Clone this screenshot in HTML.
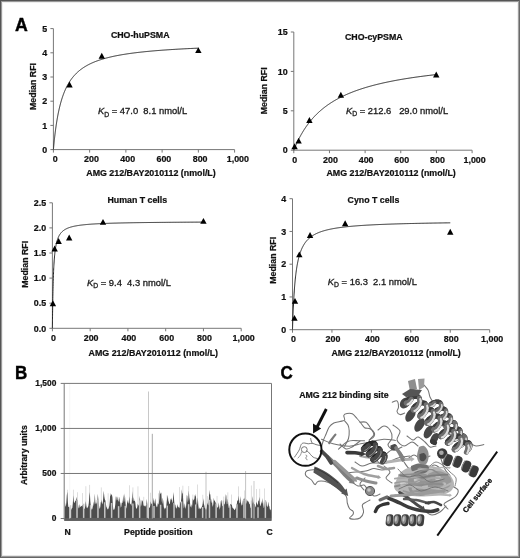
<!DOCTYPE html><html><head><meta charset="utf-8"><style>html,body{margin:0;padding:0;background:#fff}svg{display:block} text{stroke:#111;stroke-width:0.22px}</style></head><body>
<svg width="520" height="558" viewBox="0 0 520 558" style="font-family:'Liberation Sans',Arial,sans-serif">
<rect x="0" y="0" width="520" height="558" fill="#fff"/>
<text transform="translate(15.0 31.1) scale(0.97 1)" font-size="18.3" font-weight="bold" fill="#000" style="stroke:#000;stroke-width:0.4px">A</text>
<text transform="translate(15.1 379.0) scale(0.93 1)" font-size="18.3" font-weight="bold" fill="#000" style="stroke:#000;stroke-width:0.4px">B</text>
<text transform="translate(280.5 379.0) scale(0.93 1)" font-size="18.3" font-weight="bold" fill="#000" style="stroke:#000;stroke-width:0.4px">C</text>
<g stroke="#777" stroke-width="1" fill="none">
<path d="M53.4 28.6 V149.6 H234.6"/>
<path d="M50.4 149.6 H53.4"/>
<path d="M50.4 125.4 H53.4"/>
<path d="M50.4 101.2 H53.4"/>
<path d="M50.4 77 H53.4"/>
<path d="M50.4 52.8 H53.4"/>
<path d="M50.4 28.6 H53.4"/>
<path d="M53.4 149.6 V152.6"/>
<path d="M89.64 149.6 V152.6"/>
<path d="M125.88 149.6 V152.6"/>
<path d="M162.12 149.6 V152.6"/>
<path d="M198.36 149.6 V152.6"/>
<path d="M234.6 149.6 V152.6"/>
</g>
<g font-size="8.9" font-weight="bold" fill="#111" text-anchor="end">
<text x="47.2" y="152.8">0</text>
<text x="47.2" y="128.6">1</text>
<text x="47.2" y="104.4">2</text>
<text x="47.2" y="80.2">3</text>
<text x="47.2" y="56">4</text>
<text x="47.2" y="31.8">5</text>
</g>
<g font-size="8.9" font-weight="bold" fill="#111" text-anchor="middle">
<text x="55.2" y="162">0</text>
<text x="91.44" y="162">200</text>
<text x="127.68" y="162">400</text>
<text x="163.92" y="162">600</text>
<text x="200.16" y="162">800</text>
<text x="237.9" y="162">1,000</text>
</g>
<text x="151" y="176.1" font-size="8.85" font-weight="bold" fill="#111" text-anchor="middle">AMG 212/BAY2010112 (nmol/L)</text>
<text transform="translate(35.5 86.5) rotate(-90)" font-size="8.8" font-weight="bold" fill="#111" text-anchor="middle">Median RFI</text>
<text x="140.2" y="38.1" font-size="8.8" font-weight="bold" fill="#111" text-anchor="middle">CHO-huPSMA</text>
<text x="98" y="114.3" font-size="9.4" fill="#111" style="stroke:#222;stroke-width:0.3px" xml:space="preserve"><tspan font-style="italic">K</tspan><tspan font-size="6.8" dy="2.2">D</tspan><tspan dy="-2.2"> = 47.0  8.1 nmol/L</tspan></text>
<polyline points="53.4,149.6 53.4,149.6 53.4,149.59 53.4,149.57 53.41,149.54 53.41,149.49 53.41,149.44 53.42,149.38 53.43,149.3 53.43,149.21 53.44,149.11 53.45,149 53.46,148.88 53.48,148.74 53.49,148.59 53.51,148.42 53.52,148.24 53.54,148.05 53.56,147.85 53.58,147.63 53.6,147.4 53.62,147.16 53.65,146.9 53.67,146.63 53.7,146.35 53.73,146.06 53.75,145.75 53.79,145.43 53.82,145.1 53.85,144.75 53.89,144.39 53.92,144.02 53.96,143.64 54,143.25 54.04,142.84 54.08,142.43 54.13,142 54.17,141.57 54.22,141.12 54.27,140.66 54.31,140.19 54.37,139.72 54.42,139.23 54.47,138.73 54.53,138.23 54.59,137.72 54.64,137.2 54.7,136.67 54.77,136.13 54.83,135.59 54.89,135.03 54.96,134.48 55.03,133.91 55.1,133.34 55.17,132.77 55.24,132.18 55.32,131.6 55.39,131 55.47,130.41 55.55,129.81 55.63,129.2 55.71,128.59 55.8,127.98 55.88,127.37 55.97,126.75 56.06,126.13 56.15,125.5 56.24,124.88 56.34,124.25 56.44,123.62 56.53,122.99 56.63,122.36 56.73,121.73 56.84,121.1 56.94,120.46 57.05,119.83 57.15,119.2 57.26,118.57 57.37,117.93 57.49,117.3 57.6,116.67 57.72,116.04 57.84,115.41 57.96,114.79 58.08,114.16 58.2,113.54 58.33,112.92 58.45,112.3 58.58,111.68 58.71,111.07 58.85,110.46 58.98,109.85 59.12,109.24 59.25,108.64 59.39,108.04 59.53,107.44 59.68,106.85 59.82,106.25 59.97,105.67 60.12,105.08 60.27,104.5 60.42,103.93 60.57,103.35 60.73,102.78 60.88,102.22 61.04,101.66 61.21,101.1 61.37,100.55 61.53,100 61.7,99.45 61.87,98.91 62.04,98.38 62.21,97.84 62.38,97.31 62.56,96.79 62.74,96.27 62.92,95.76 63.1,95.25 63.28,94.74 63.47,94.24 63.65,93.74 63.84,93.25 64.03,92.76 64.23,92.27 64.42,91.79 64.62,91.32 64.82,90.85 65.02,90.38 65.22,89.92 65.42,89.46 65.63,89.01 65.84,88.56 66.05,88.12 66.26,87.68 66.47,87.24 66.69,86.81 66.91,86.38 67.12,85.96 67.35,85.54 67.57,85.13 67.79,84.72 68.02,84.31 68.25,83.91 68.48,83.51 68.71,83.12 68.95,82.73 69.19,82.34 69.43,81.96 69.67,81.58 69.91,81.21 70.15,80.84 70.4,80.47 70.65,80.11 70.9,79.76 71.15,79.4 71.41,79.05 71.66,78.7 71.92,78.36 72.18,78.02 72.45,77.69 72.71,77.36 72.98,77.03 73.24,76.7 73.52,76.38 73.79,76.06 74.06,75.75 74.34,75.44 74.62,75.13 74.9,74.83 75.18,74.53 75.46,74.23 75.75,73.94 76.04,73.64 76.33,73.36 76.62,73.07 76.92,72.79 77.21,72.51 77.51,72.24 77.81,71.96 78.12,71.7 78.42,71.43 78.73,71.17 79.04,70.9 79.35,70.65 79.66,70.39 79.98,70.14 80.29,69.89 80.61,69.64 80.93,69.4 81.26,69.16 81.58,68.92 81.91,68.68 82.24,68.45 82.57,68.22 82.9,67.99 83.24,67.76 83.58,67.54 83.92,67.32 84.26,67.1 84.6,66.88 84.95,66.67 85.3,66.46 85.65,66.25 86,66.04 86.35,65.84 86.71,65.63 87.07,65.43 87.43,65.24 87.79,65.04 88.16,64.84 88.52,64.65 88.89,64.46 89.26,64.27 89.64,64.09 90.01,63.9 90.39,63.72 90.77,63.54 91.15,63.36 91.53,63.19 91.92,63.01 92.31,62.84 92.7,62.67 93.09,62.5 93.49,62.33 93.88,62.17 94.28,62 94.68,61.84 95.08,61.68 95.49,61.52 95.9,61.37 96.31,61.21 96.72,61.06 97.13,60.9 97.55,60.75 97.96,60.6 98.38,60.46 98.81,60.31 99.23,60.17 99.66,60.02 100.09,59.88 100.52,59.74 100.95,59.6 101.39,59.47 101.82,59.33 102.26,59.19 102.7,59.06 103.15,58.93 103.59,58.8 104.04,58.67 104.49,58.54 104.94,58.42 105.4,58.29 105.86,58.17 106.32,58.04 106.78,57.92 107.24,57.8 107.71,57.68 108.17,57.56 108.64,57.45 109.12,57.33 109.59,57.22 110.07,57.1 110.55,56.99 111.03,56.88 111.51,56.77 111.99,56.66 112.48,56.55 112.97,56.44 113.46,56.34 113.96,56.23 114.45,56.13 114.95,56.03 115.45,55.92 115.96,55.82 116.46,55.72 116.97,55.62 117.48,55.53 117.99,55.43 118.51,55.33 119.02,55.24 119.54,55.14 120.06,55.05 120.58,54.96 121.11,54.86 121.64,54.77 122.17,54.68 122.7,54.59 123.23,54.5 123.77,54.42 124.31,54.33 124.85,54.24 125.39,54.16 125.94,54.07 126.48,53.99 127.03,53.91 127.59,53.82 128.14,53.74 128.7,53.66 129.26,53.58 129.82,53.5 130.38,53.42 130.95,53.35 131.51,53.27 132.08,53.19 132.66,53.12 133.23,53.04 133.81,52.97 134.39,52.89 134.97,52.82 135.55,52.75 136.14,52.68 136.73,52.6 137.32,52.53 137.91,52.46 138.51,52.39 139.1,52.33 139.7,52.26 140.31,52.19 140.91,52.12 141.52,52.06 142.13,51.99 142.74,51.93 143.35,51.86 143.97,51.8 144.58,51.73 145.2,51.67 145.83,51.61 146.45,51.55 147.08,51.48 147.71,51.42 148.34,51.36 148.97,51.3 149.61,51.24 150.25,51.18 150.89,51.13 151.53,51.07 152.18,51.01 152.83,50.95 153.48,50.9 154.13,50.84 154.78,50.79 155.44,50.73 156.1,50.68 156.76,50.62 157.43,50.57 158.09,50.52 158.76,50.46 159.43,50.41 160.11,50.36 160.78,50.31 161.46,50.26 162.14,50.2 162.82,50.15 163.51,50.1 164.2,50.05 164.89,50.01 165.58,49.96 166.27,49.91 166.97,49.86 167.67,49.81 168.37,49.77 169.07,49.72 169.78,49.67 170.49,49.63 171.2,49.58 171.91,49.53 172.63,49.49 173.34,49.45 174.07,49.4 174.79,49.36 175.51,49.31 176.24,49.27 176.97,49.23 177.7,49.18 178.44,49.14 179.17,49.1 179.91,49.06 180.65,49.02 181.4,48.98 182.14,48.94 182.89,48.89 183.64,48.85 184.4,48.81 185.15,48.78 185.91,48.74 186.67,48.7 187.43,48.66 188.2,48.62 188.96,48.58 189.73,48.54 190.51,48.51 191.28,48.47 192.06,48.43 192.84,48.4 193.62,48.36 194.4,48.32 195.19,48.29 195.98,48.25 196.77,48.22 197.56,48.18 198.36,48.15" fill="none" stroke="#222" stroke-width="1"/>
<polygon points="66.33,87.45 72.73,87.45 69.53,81.55" fill="#000"/>
<polygon points="98.58,58.65 104.98,58.65 101.78,52.75" fill="#000"/>
<polygon points="195.16,53.09 201.56,53.09 198.36,47.19" fill="#000"/>
<g stroke="#777" stroke-width="1" fill="none">
<path d="M293.8 32 V150.2 H472.1"/>
<path d="M290.8 150.2 H293.8"/>
<path d="M290.8 110.8 H293.8"/>
<path d="M290.8 71.4 H293.8"/>
<path d="M290.8 32 H293.8"/>
<path d="M293.8 150.2 V153.2"/>
<path d="M329.46 150.2 V153.2"/>
<path d="M365.12 150.2 V153.2"/>
<path d="M400.78 150.2 V153.2"/>
<path d="M436.44 150.2 V153.2"/>
<path d="M472.1 150.2 V153.2"/>
</g>
<g font-size="8.9" font-weight="bold" fill="#111" text-anchor="end">
<text x="287.6" y="153.4">0</text>
<text x="287.6" y="114">5</text>
<text x="287.6" y="74.6">10</text>
<text x="287.6" y="35.2">15</text>
</g>
<g font-size="8.9" font-weight="bold" fill="#111" text-anchor="middle">
<text x="294.8" y="162.6">0</text>
<text x="330.46" y="162.6">200</text>
<text x="366.12" y="162.6">400</text>
<text x="401.78" y="162.6">600</text>
<text x="437.44" y="162.6">800</text>
<text x="474.6" y="162.6">1,000</text>
</g>
<text x="391.1" y="176.1" font-size="8.85" font-weight="bold" fill="#111" text-anchor="middle">AMG 212/BAY2010112 (nmol/L)</text>
<text transform="translate(266.7 90.8) rotate(-90)" font-size="8.8" font-weight="bold" fill="#111" text-anchor="middle">Median RFI</text>
<text x="373.8" y="40.3" font-size="8.8" font-weight="bold" fill="#111" text-anchor="middle">CHO-cyPSMA</text>
<text x="346" y="114" font-size="9.4" fill="#111" style="stroke:#222;stroke-width:0.3px" xml:space="preserve"><tspan font-style="italic">K</tspan><tspan font-size="6.8" dy="2.2">D</tspan><tspan dy="-2.2"> = 212.6   29.0 nmol/L</tspan></text>
<polyline points="293.8,150.2 293.8,150.2 293.8,150.2 293.8,150.19 293.81,150.19 293.81,150.18 293.81,150.17 293.82,150.15 293.83,150.13 293.83,150.11 293.84,150.09 293.85,150.07 293.86,150.04 293.88,150.01 293.89,149.97 293.9,149.94 293.92,149.9 293.94,149.86 293.96,149.81 293.97,149.76 294,149.71 294.02,149.65 294.04,149.59 294.07,149.53 294.09,149.47 294.12,149.4 294.15,149.33 294.18,149.25 294.21,149.17 294.24,149.09 294.28,149.01 294.31,148.92 294.35,148.83 294.39,148.73 294.43,148.64 294.47,148.53 294.51,148.43 294.56,148.32 294.6,148.21 294.65,148.1 294.7,147.98 294.75,147.86 294.8,147.73 294.86,147.61 294.91,147.48 294.97,147.34 295.02,147.21 295.08,147.06 295.14,146.92 295.21,146.77 295.27,146.62 295.34,146.47 295.4,146.32 295.47,146.16 295.54,145.99 295.61,145.83 295.69,145.66 295.76,145.49 295.84,145.31 295.92,145.14 296,144.96 296.08,144.77 296.16,144.59 296.24,144.4 296.33,144.21 296.42,144.01 296.51,143.82 296.6,143.62 296.69,143.41 296.79,143.21 296.88,143 296.98,142.79 297.08,142.58 297.18,142.36 297.28,142.14 297.39,141.92 297.49,141.7 297.6,141.47 297.71,141.25 297.82,141.02 297.94,140.78 298.05,140.55 298.17,140.31 298.28,140.07 298.4,139.83 298.53,139.59 298.65,139.34 298.77,139.1 298.9,138.85 299.03,138.6 299.16,138.34 299.29,138.09 299.42,137.83 299.56,137.57 299.7,137.31 299.84,137.05 299.98,136.79 300.12,136.52 300.26,136.25 300.41,135.99 300.56,135.72 300.71,135.45 300.86,135.17 301.01,134.9 301.17,134.62 301.32,134.35 301.48,134.07 301.64,133.79 301.8,133.51 301.97,133.23 302.13,132.95 302.3,132.66 302.47,132.38 302.64,132.09 302.81,131.81 302.99,131.52 303.17,131.23 303.34,130.94 303.52,130.65 303.71,130.36 303.89,130.07 304.08,129.78 304.26,129.49 304.45,129.2 304.65,128.9 304.84,128.61 305.03,128.31 305.23,128.02 305.43,127.72 305.63,127.43 305.83,127.13 306.04,126.83 306.24,126.54 306.45,126.24 306.66,125.94 306.88,125.65 307.09,125.35 307.31,125.05 307.52,124.75 307.74,124.45 307.96,124.16 308.19,123.86 308.41,123.56 308.64,123.26 308.87,122.97 309.1,122.67 309.33,122.37 309.57,122.07 309.81,121.78 310.04,121.48 310.29,121.18 310.53,120.89 310.77,120.59 311.02,120.29 311.27,120 311.52,119.7 311.77,119.41 312.03,119.11 312.28,118.82 312.54,118.53 312.8,118.23 313.06,117.94 313.33,117.65 313.59,117.36 313.86,117.07 314.13,116.78 314.4,116.49 314.68,116.2 314.95,115.91 315.23,115.62 315.51,115.33 315.79,115.05 316.08,114.76 316.36,114.48 316.65,114.19 316.94,113.91 317.23,113.62 317.53,113.34 317.82,113.06 318.12,112.78 318.42,112.5 318.72,112.22 319.03,111.94 319.33,111.67 319.64,111.39 319.95,111.11 320.26,110.84 320.58,110.57 320.89,110.29 321.21,110.02 321.53,109.75 321.85,109.48 322.18,109.21 322.5,108.94 322.83,108.68 323.16,108.41 323.49,108.14 323.83,107.88 324.16,107.62 324.5,107.35 324.84,107.09 325.19,106.83 325.53,106.57 325.88,106.32 326.23,106.06 326.58,105.8 326.93,105.55 327.28,105.29 327.64,105.04 328,104.79 328.36,104.54 328.72,104.29 329.09,104.04 329.46,103.79 329.83,103.55 330.2,103.3 330.57,103.06 330.95,102.81 331.32,102.57 331.7,102.33 332.09,102.09 332.47,101.85 332.86,101.61 333.24,101.38 333.63,101.14 334.03,100.91 334.42,100.67 334.82,100.44 335.22,100.21 335.62,99.98 336.02,99.75 336.42,99.52 336.83,99.3 337.24,99.07 337.65,98.85 338.06,98.62 338.48,98.4 338.9,98.18 339.32,97.96 339.74,97.74 340.16,97.53 340.59,97.31 341.02,97.09 341.45,96.88 341.88,96.67 342.31,96.45 342.75,96.24 343.19,96.03 343.63,95.82 344.07,95.61 344.52,95.41 344.97,95.2 345.42,95 345.87,94.79 346.32,94.59 346.78,94.39 347.24,94.19 347.7,93.99 348.16,93.79 348.62,93.6 349.09,93.4 349.56,93.2 350.03,93.01 350.5,92.82 350.98,92.63 351.46,92.44 351.94,92.25 352.42,92.06 352.9,91.87 353.39,91.68 353.88,91.5 354.37,91.31 354.86,91.13 355.36,90.95 355.85,90.77 356.35,90.58 356.85,90.41 357.36,90.23 357.86,90.05 358.37,89.87 358.88,89.7 359.39,89.52 359.91,89.35 360.43,89.18 360.94,89.01 361.47,88.83 361.99,88.67 362.51,88.5 363.04,88.33 363.57,88.16 364.1,88 364.64,87.83 365.18,87.67 365.71,87.5 366.26,87.34 366.8,87.18 367.34,87.02 367.89,86.86 368.44,86.7 368.99,86.55 369.55,86.39 370.11,86.23 370.66,86.08 371.23,85.93 371.79,85.77 372.35,85.62 372.92,85.47 373.49,85.32 374.06,85.17 374.64,85.02 375.22,84.87 375.79,84.73 376.38,84.58 376.96,84.44 377.54,84.29 378.13,84.15 378.72,84.01 379.31,83.86 379.91,83.72 380.51,83.58 381.11,83.44 381.71,83.3 382.31,83.17 382.92,83.03 383.52,82.89 384.13,82.76 384.75,82.62 385.36,82.49 385.98,82.36 386.6,82.22 387.22,82.09 387.84,81.96 388.47,81.83 389.1,81.7 389.73,81.58 390.36,81.45 391,81.32 391.64,81.19 392.28,81.07 392.92,80.94 393.56,80.82 394.21,80.7 394.86,80.57 395.51,80.45 396.16,80.33 396.82,80.21 397.48,80.09 398.14,79.97 398.8,79.85 399.46,79.74 400.13,79.62 400.8,79.5 401.47,79.39 402.15,79.27 402.82,79.16 403.5,79.05 404.18,78.93 404.87,78.82 405.55,78.71 406.24,78.6 406.93,78.49 407.62,78.38 408.32,78.27 409.01,78.16 409.71,78.05 410.41,77.95 411.12,77.84 411.83,77.73 412.53,77.63 413.24,77.52 413.96,77.42 414.67,77.32 415.39,77.21 416.11,77.11 416.83,77.01 417.56,76.91 418.29,76.81 419.02,76.71 419.75,76.61 420.48,76.51 421.22,76.41 421.96,76.31 422.7,76.22 423.44,76.12 424.19,76.02 424.94,75.93 425.69,75.83 426.44,75.74 427.19,75.64 427.95,75.55 428.71,75.46 429.47,75.37 430.24,75.27 431.01,75.18 431.78,75.09 432.55,75 433.32,74.91 434.1,74.82 434.88,74.74 435.66,74.65 436.44,74.56" fill="none" stroke="#222" stroke-width="1"/>
<polygon points="291.4,149.21 297.8,149.21 294.6,143.31" fill="#000"/>
<polygon points="295.41,143.54 301.81,143.54 298.61,137.64" fill="#000"/>
<polygon points="306.2,122.97 312.6,122.97 309.4,117.07" fill="#000"/>
<polygon points="337.67,97.75 344.07,97.75 340.87,91.85" fill="#000"/>
<polygon points="433.06,77.5 439.46,77.5 436.26,71.6" fill="#000"/>
<g stroke="#777" stroke-width="1" fill="none">
<path d="M52.4 202.8 V328.3 H241.2"/>
<path d="M49.4 328.3 H52.4"/>
<path d="M49.4 303.2 H52.4"/>
<path d="M49.4 278.1 H52.4"/>
<path d="M49.4 253 H52.4"/>
<path d="M49.4 227.9 H52.4"/>
<path d="M49.4 202.8 H52.4"/>
<path d="M52.4 328.3 V331.3"/>
<path d="M90.16 328.3 V331.3"/>
<path d="M127.92 328.3 V331.3"/>
<path d="M165.68 328.3 V331.3"/>
<path d="M203.44 328.3 V331.3"/>
<path d="M241.2 328.3 V331.3"/>
</g>
<g font-size="8.9" font-weight="bold" fill="#111" text-anchor="end">
<text x="46.2" y="331.5">0.0</text>
<text x="46.2" y="306.4">0.5</text>
<text x="46.2" y="281.3">1.0</text>
<text x="46.2" y="256.2">1.5</text>
<text x="46.2" y="231.1">2.0</text>
<text x="46.2" y="206">2.5</text>
</g>
<g font-size="8.9" font-weight="bold" fill="#111" text-anchor="middle">
<text x="53.4" y="340.7">0</text>
<text x="91.16" y="340.7">200</text>
<text x="128.92" y="340.7">400</text>
<text x="166.68" y="340.7">600</text>
<text x="204.44" y="340.7">800</text>
<text x="243.7" y="340.7">1,000</text>
</g>
<text x="153.3" y="356" font-size="8.85" font-weight="bold" fill="#111" text-anchor="middle">AMG 212/BAY2010112 (nmol/L)</text>
<text transform="translate(27.6 264.3) rotate(-90)" font-size="8.8" font-weight="bold" fill="#111" text-anchor="middle">Median RFI</text>
<text x="137.3" y="203" font-size="8.8" font-weight="bold" fill="#111" text-anchor="middle">Human T cells</text>
<text x="87" y="285.5" font-size="9.4" fill="#111" style="stroke:#222;stroke-width:0.3px" xml:space="preserve"><tspan font-style="italic">K</tspan><tspan font-size="6.8" dy="2.2">D</tspan><tspan dy="-2.2"> = 9.4  4.3 nmol/L</tspan></text>
<polyline points="52.4,328.3 52.4,328.27 52.4,328.17 52.4,327.97 52.41,327.68 52.41,327.3 52.41,326.81 52.42,326.22 52.43,325.53 52.44,324.74 52.45,323.85 52.46,322.86 52.47,321.78 52.48,320.62 52.49,319.37 52.51,318.05 52.53,316.65 52.55,315.19 52.56,313.68 52.59,312.11 52.61,310.5 52.63,308.85 52.66,307.17 52.68,305.46 52.71,303.73 52.74,301.99 52.77,300.24 52.8,298.49 52.83,296.74 52.87,295 52.91,293.26 52.94,291.54 52.98,289.84 53.02,288.16 53.07,286.5 53.11,284.86 53.16,283.26 53.2,281.68 53.25,280.13 53.3,278.61 53.35,277.13 53.41,275.68 53.46,274.26 53.52,272.88 53.58,271.53 53.63,270.22 53.7,268.94 53.76,267.69 53.82,266.48 53.89,265.3 53.96,264.15 54.03,263.04 54.1,261.96 54.17,260.91 54.24,259.89 54.32,258.9 54.4,257.94 54.48,257.01 54.56,256.11 54.64,255.23 54.73,254.38 54.81,253.56 54.9,252.76 54.99,251.98 55.08,251.23 55.17,250.5 55.27,249.8 55.36,249.11 55.46,248.45 55.56,247.8 55.66,247.18 55.77,246.57 55.87,245.99 55.98,245.42 56.09,244.86 56.2,244.33 56.31,243.8 56.43,243.3 56.54,242.81 56.66,242.33 56.78,241.87 56.9,241.42 57.02,240.99 57.15,240.56 57.27,240.15 57.4,239.75 57.53,239.36 57.67,238.99 57.8,238.62 57.94,238.26 58.07,237.92 58.21,237.58 58.36,237.25 58.5,236.93 58.64,236.62 58.79,236.32 58.94,236.03 59.09,235.74 59.24,235.46 59.4,235.19 59.55,234.93 59.71,234.67 59.87,234.42 60.03,234.18 60.2,233.94 60.36,233.71 60.53,233.48 60.7,233.26 60.87,233.05 61.05,232.84 61.22,232.63 61.4,232.43 61.58,232.24 61.76,232.05 61.94,231.87 62.13,231.69 62.32,231.51 62.51,231.34 62.7,231.17 62.89,231.01 63.08,230.85 63.28,230.69 63.48,230.54 63.68,230.39 63.88,230.24 64.09,230.1 64.3,229.96 64.5,229.82 64.71,229.69 64.93,229.56 65.14,229.43 65.36,229.31 65.58,229.18 65.8,229.07 66.02,228.95 66.25,228.83 66.47,228.72 66.7,228.61 66.93,228.51 67.16,228.4 67.4,228.3 67.63,228.2 67.87,228.1 68.11,228 68.36,227.91 68.6,227.81 68.85,227.72 69.1,227.63 69.35,227.55 69.6,227.46 69.86,227.38 70.11,227.3 70.37,227.21 70.63,227.14 70.9,227.06 71.16,226.98 71.43,226.91 71.7,226.83 71.97,226.76 72.24,226.69 72.52,226.62 72.8,226.55 73.08,226.49 73.36,226.42 73.64,226.36 73.93,226.29 74.22,226.23 74.51,226.17 74.8,226.11 75.09,226.05 75.39,225.99 75.69,225.94 75.99,225.88 76.29,225.83 76.6,225.77 76.9,225.72 77.21,225.67 77.52,225.62 77.84,225.57 78.15,225.52 78.47,225.47 78.79,225.42 79.11,225.37 79.44,225.33 79.76,225.28 80.09,225.24 80.42,225.19 80.75,225.15 81.09,225.11 81.43,225.07 81.76,225.03 82.11,224.99 82.45,224.95 82.79,224.91 83.14,224.87 83.49,224.83 83.84,224.79 84.2,224.76 84.55,224.72 84.91,224.68 85.27,224.65 85.63,224.61 86,224.58 86.37,224.55 86.74,224.51 87.11,224.48 87.48,224.45 87.86,224.42 88.23,224.39 88.61,224.35 89,224.32 89.38,224.29 89.77,224.26 90.16,224.24 90.55,224.21 90.94,224.18 91.34,224.15 91.73,224.12 92.13,224.1 92.54,224.07 92.94,224.04 93.35,224.02 93.76,223.99 94.17,223.97 94.58,223.94 95,223.92 95.41,223.89 95.83,223.87 96.25,223.85 96.68,223.82 97.11,223.8 97.53,223.78 97.97,223.76 98.4,223.73 98.83,223.71 99.27,223.69 99.71,223.67 100.15,223.65 100.6,223.63 101.04,223.61 101.49,223.59 101.94,223.57 102.4,223.55 102.85,223.53 103.31,223.51 103.77,223.49 104.23,223.47 104.7,223.46 105.17,223.44 105.64,223.42 106.11,223.4 106.58,223.38 107.06,223.37 107.53,223.35 108.02,223.33 108.5,223.32 108.98,223.3 109.47,223.28 109.96,223.27 110.45,223.25 110.95,223.24 111.44,223.22 111.94,223.21 112.44,223.19 112.95,223.18 113.45,223.16 113.96,223.15 114.47,223.13 114.98,223.12 115.5,223.11 116.02,223.09 116.53,223.08 117.06,223.06 117.58,223.05 118.11,223.04 118.64,223.02 119.17,223.01 119.7,223 120.24,222.99 120.77,222.97 121.31,222.96 121.86,222.95 122.4,222.94 122.95,222.93 123.5,222.91 124.05,222.9 124.6,222.89 125.16,222.88 125.72,222.87 126.28,222.86 126.85,222.84 127.41,222.83 127.98,222.82 128.55,222.81 129.12,222.8 129.7,222.79 130.28,222.78 130.86,222.77 131.44,222.76 132.02,222.75 132.61,222.74 133.2,222.73 133.79,222.72 134.38,222.71 134.98,222.7 135.58,222.69 136.18,222.68 136.78,222.67 137.39,222.66 138,222.66 138.61,222.65 139.22,222.64 139.84,222.63 140.46,222.62 141.08,222.61 141.7,222.6 142.32,222.59 142.95,222.59 143.58,222.58 144.21,222.57 144.85,222.56 145.48,222.55 146.12,222.55 146.76,222.54 147.41,222.53 148.05,222.52 148.7,222.51 149.35,222.51 150.01,222.5 150.66,222.49 151.32,222.48 151.98,222.48 152.65,222.47 153.31,222.46 153.98,222.46 154.65,222.45 155.32,222.44 156,222.44 156.67,222.43 157.35,222.42 158.04,222.41 158.72,222.41 159.41,222.4 160.1,222.4 160.79,222.39 161.48,222.38 162.18,222.38 162.88,222.37 163.58,222.36 164.29,222.36 164.99,222.35 165.7,222.35 166.41,222.34 167.13,222.33 167.84,222.33 168.56,222.32 169.28,222.32 170.01,222.31 170.73,222.3 171.46,222.3 172.19,222.29 172.92,222.29 173.66,222.28 174.4,222.28 175.14,222.27 175.88,222.27 176.63,222.26 177.38,222.26 178.13,222.25 178.88,222.24 179.63,222.24 180.39,222.23 181.15,222.23 181.91,222.22 182.68,222.22 183.45,222.21 184.22,222.21 184.99,222.2 185.77,222.2 186.54,222.2 187.32,222.19 188.1,222.19 188.89,222.18 189.68,222.18 190.47,222.17 191.26,222.17 192.05,222.16 192.85,222.16 193.65,222.15 194.45,222.15 195.26,222.15 196.06,222.14 196.87,222.14 197.69,222.13 198.5,222.13 199.32,222.12 200.14,222.12 200.96,222.12 201.78,222.11 202.61,222.11 203.44,222.1" fill="none" stroke="#222" stroke-width="1"/>
<polygon points="49.69,306.15 56.09,306.15 52.89,300.25" fill="#000"/>
<polygon points="51.47,251.43 57.87,251.43 54.67,245.53" fill="#000"/>
<polygon points="55.43,243.9 61.83,243.9 58.63,238" fill="#000"/>
<polygon points="66,240.39 72.4,240.39 69.2,234.49" fill="#000"/>
<polygon points="99.8,224.83 106.2,224.83 103,218.93" fill="#000"/>
<polygon points="200.24,223.82 206.64,223.82 203.44,217.92" fill="#000"/>
<g stroke="#777" stroke-width="1" fill="none">
<path d="M292.5 198.7 V329.7 H489.7"/>
<path d="M289.5 329.7 H292.5"/>
<path d="M289.5 296.95 H292.5"/>
<path d="M289.5 264.2 H292.5"/>
<path d="M289.5 231.45 H292.5"/>
<path d="M289.5 198.7 H292.5"/>
<path d="M292.5 329.7 V332.7"/>
<path d="M331.94 329.7 V332.7"/>
<path d="M371.38 329.7 V332.7"/>
<path d="M410.82 329.7 V332.7"/>
<path d="M450.26 329.7 V332.7"/>
<path d="M489.7 329.7 V332.7"/>
</g>
<g font-size="8.9" font-weight="bold" fill="#111" text-anchor="end">
<text x="286.3" y="332.9">0</text>
<text x="286.3" y="300.15">1</text>
<text x="286.3" y="267.4">2</text>
<text x="286.3" y="234.65">3</text>
<text x="286.3" y="201.9">4</text>
</g>
<g font-size="8.9" font-weight="bold" fill="#111" text-anchor="middle">
<text x="293.5" y="342.1">0</text>
<text x="332.94" y="342.1">200</text>
<text x="372.38" y="342.1">400</text>
<text x="411.82" y="342.1">600</text>
<text x="451.26" y="342.1">800</text>
<text x="492.2" y="342.1">1,000</text>
</g>
<text x="396.1" y="356" font-size="8.85" font-weight="bold" fill="#111" text-anchor="middle">AMG 212/BAY2010112 (nmol/L)</text>
<text transform="translate(275.5 260.3) rotate(-90)" font-size="8.8" font-weight="bold" fill="#111" text-anchor="middle">Median RFI</text>
<text x="373.5" y="202.7" font-size="8.8" font-weight="bold" fill="#111" text-anchor="middle">Cyno T cells</text>
<text x="327.8" y="285.2" font-size="9.4" fill="#111" style="stroke:#222;stroke-width:0.3px" xml:space="preserve"><tspan font-style="italic">K</tspan><tspan font-size="6.8" dy="2.2">D</tspan><tspan dy="-2.2"> = 16.3  2.1 nmol/L</tspan></text>
<polyline points="292.5,329.7 292.5,329.69 292.5,329.65 292.5,329.59 292.51,329.49 292.51,329.35 292.52,329.18 292.52,328.97 292.53,328.73 292.54,328.45 292.55,328.12 292.56,327.76 292.57,327.36 292.58,326.92 292.6,326.45 292.62,325.93 292.63,325.38 292.65,324.79 292.67,324.17 292.69,323.51 292.72,322.81 292.74,322.09 292.77,321.33 292.79,320.54 292.82,319.73 292.85,318.88 292.89,318.01 292.92,317.12 292.95,316.2 292.99,315.26 293.03,314.3 293.07,313.32 293.11,312.32 293.15,311.31 293.2,310.28 293.24,309.25 293.29,308.2 293.34,307.14 293.39,306.07 293.44,304.99 293.5,303.91 293.55,302.83 293.61,301.74 293.67,300.65 293.73,299.56 293.79,298.47 293.85,297.38 293.92,296.3 293.99,295.21 294.06,294.13 294.13,293.06 294.2,291.99 294.27,290.93 294.35,289.88 294.43,288.83 294.51,287.8 294.59,286.77 294.67,285.75 294.75,284.74 294.84,283.75 294.93,282.76 295.02,281.79 295.11,280.82 295.2,279.87 295.3,278.93 295.4,278.01 295.5,277.09 295.6,276.19 295.7,275.3 295.8,274.43 295.91,273.57 296.02,272.72 296.13,271.88 296.24,271.06 296.35,270.25 296.47,269.45 296.59,268.66 296.7,267.89 296.83,267.13 296.95,266.39 297.07,265.65 297.2,264.93 297.33,264.23 297.46,263.53 297.59,262.85 297.73,262.17 297.86,261.51 298,260.87 298.14,260.23 298.28,259.61 298.43,258.99 298.57,258.39 298.72,257.8 298.87,257.22 299.02,256.65 299.18,256.09 299.33,255.54 299.49,255 299.65,254.47 299.81,253.95 299.97,253.44 300.14,252.94 300.31,252.45 300.47,251.97 300.65,251.5 300.82,251.04 300.99,250.58 301.17,250.13 301.35,249.7 301.53,249.27 301.72,248.84 301.9,248.43 302.09,248.02 302.28,247.62 302.47,247.23 302.66,246.85 302.86,246.47 303.06,246.1 303.25,245.74 303.46,245.38 303.66,245.03 303.87,244.69 304.07,244.35 304.28,244.02 304.49,243.69 304.71,243.37 304.92,243.06 305.14,242.75 305.36,242.45 305.58,242.15 305.81,241.86 306.04,241.57 306.26,241.29 306.49,241.01 306.73,240.74 306.96,240.48 307.2,240.21 307.44,239.96 307.68,239.7 307.92,239.45 308.17,239.21 308.41,238.97 308.66,238.73 308.91,238.5 309.17,238.27 309.42,238.05 309.68,237.83 309.94,237.61 310.2,237.4 310.47,237.19 310.73,236.99 311,236.78 311.27,236.59 311.55,236.39 311.82,236.2 312.1,236.01 312.38,235.82 312.66,235.64 312.94,235.46 313.23,235.28 313.51,235.11 313.81,234.94 314.1,234.77 314.39,234.61 314.69,234.44 314.99,234.28 315.29,234.12 315.59,233.97 315.9,233.82 316.2,233.67 316.51,233.52 316.83,233.37 317.14,233.23 317.46,233.09 317.77,232.95 318.09,232.81 318.42,232.68 318.74,232.54 319.07,232.41 319.4,232.28 319.73,232.16 320.06,232.03 320.4,231.91 320.74,231.79 321.08,231.67 321.42,231.55 321.77,231.43 322.12,231.32 322.46,231.21 322.82,231.1 323.17,230.99 323.53,230.88 323.89,230.77 324.25,230.67 324.61,230.57 324.97,230.46 325.34,230.36 325.71,230.27 326.08,230.17 326.46,230.07 326.83,229.98 327.21,229.89 327.59,229.79 327.98,229.7 328.36,229.61 328.75,229.52 329.14,229.44 329.53,229.35 329.93,229.27 330.33,229.18 330.72,229.1 331.13,229.02 331.53,228.94 331.94,228.86 332.35,228.78 332.76,228.71 333.17,228.63 333.58,228.56 334,228.48 334.42,228.41 334.84,228.34 335.27,228.27 335.7,228.2 336.13,228.13 336.56,228.06 336.99,227.99 337.43,227.92 337.87,227.86 338.31,227.79 338.75,227.73 339.19,227.67 339.64,227.6 340.09,227.54 340.54,227.48 341,227.42 341.46,227.36 341.92,227.3 342.38,227.25 342.84,227.19 343.31,227.13 343.78,227.08 344.25,227.02 344.72,226.97 345.2,226.91 345.68,226.86 346.16,226.81 346.64,226.75 347.13,226.7 347.61,226.65 348.1,226.6 348.6,226.55 349.09,226.5 349.59,226.46 350.09,226.41 350.59,226.36 351.09,226.31 351.6,226.27 352.11,226.22 352.62,226.18 353.14,226.13 353.65,226.09 354.17,226.05 354.69,226 355.21,225.96 355.74,225.92 356.27,225.88 356.8,225.83 357.33,225.79 357.87,225.75 358.41,225.71 358.95,225.67 359.49,225.64 360.03,225.6 360.58,225.56 361.13,225.52 361.68,225.48 362.24,225.45 362.79,225.41 363.35,225.38 363.92,225.34 364.48,225.3 365.05,225.27 365.62,225.24 366.19,225.2 366.76,225.17 367.34,225.13 367.92,225.1 368.5,225.07 369.08,225.04 369.67,225 370.26,224.97 370.85,224.94 371.44,224.91 372.04,224.88 372.64,224.85 373.24,224.82 373.84,224.79 374.45,224.76 375.05,224.73 375.67,224.7 376.28,224.67 376.89,224.64 377.51,224.62 378.13,224.59 378.76,224.56 379.38,224.53 380.01,224.51 380.64,224.48 381.27,224.45 381.91,224.43 382.55,224.4 383.19,224.38 383.83,224.35 384.47,224.33 385.12,224.3 385.77,224.28 386.42,224.25 387.08,224.23 387.74,224.2 388.4,224.18 389.06,224.16 389.72,224.13 390.39,224.11 391.06,224.09 391.73,224.06 392.41,224.04 393.09,224.02 393.77,224 394.45,223.98 395.14,223.95 395.82,223.93 396.51,223.91 397.21,223.89 397.9,223.87 398.6,223.85 399.3,223.83 400,223.81 400.71,223.79 401.41,223.77 402.12,223.75 402.84,223.73 403.55,223.71 404.27,223.69 404.99,223.67 405.71,223.65 406.44,223.63 407.17,223.62 407.9,223.6 408.63,223.58 409.36,223.56 410.1,223.54 410.84,223.53 411.59,223.51 412.33,223.49 413.08,223.47 413.83,223.46 414.58,223.44 415.34,223.42 416.1,223.41 416.86,223.39 417.62,223.37 418.39,223.36 419.16,223.34 419.93,223.33 420.7,223.31 421.48,223.29 422.25,223.28 423.04,223.26 423.82,223.25 424.61,223.23 425.4,223.22 426.19,223.2 426.98,223.19 427.78,223.17 428.58,223.16 429.38,223.14 430.18,223.13 430.99,223.12 431.8,223.1 432.61,223.09 433.43,223.07 434.24,223.06 435.06,223.05 435.88,223.03 436.71,223.02 437.54,223.01 438.37,222.99 439.2,222.98 440.03,222.97 440.87,222.96 441.71,222.94 442.56,222.93 443.4,222.92 444.25,222.9 445.1,222.89 445.95,222.88 446.81,222.87 447.67,222.86 448.53,222.84 449.39,222.83 450.26,222.82" fill="none" stroke="#222" stroke-width="1"/>
<polygon points="291.27,320.86 297.67,320.86 294.47,314.96" fill="#000"/>
<polygon points="291.8,303.83 298.2,303.83 295,297.93" fill="#000"/>
<polygon points="296.1,257.32 302.5,257.32 299.3,251.43" fill="#000"/>
<polygon points="306.85,238 313.25,238 310.05,232.1" fill="#000"/>
<polygon points="341.95,226.21 348.35,226.21 345.15,220.31" fill="#000"/>
<polygon points="447.06,234.73 453.46,234.73 450.26,228.83" fill="#000"/>
<rect x="67.2" y="489.75" width="0.8" height="28.75" fill="#d6d6d6"/>
<rect x="72.97" y="489.69" width="0.8" height="28.81" fill="#d6d6d6"/>
<rect x="77.13" y="492.24" width="0.8" height="26.26" fill="#d6d6d6"/>
<rect x="81.99" y="493.04" width="0.8" height="25.46" fill="#d6d6d6"/>
<rect x="85.46" y="486.2" width="0.8" height="32.3" fill="#d6d6d6"/>
<rect x="89.26" y="484.85" width="0.8" height="33.65" fill="#d6d6d6"/>
<rect x="96.01" y="500.22" width="0.8" height="18.28" fill="#d6d6d6"/>
<rect x="100.84" y="487.38" width="0.8" height="31.12" fill="#d6d6d6"/>
<rect x="107.72" y="493.31" width="0.8" height="25.19" fill="#d6d6d6"/>
<rect x="111.79" y="497.14" width="0.8" height="21.36" fill="#d6d6d6"/>
<rect x="118.57" y="497.13" width="0.8" height="21.37" fill="#d6d6d6"/>
<rect x="123.9" y="498.23" width="0.8" height="20.27" fill="#d6d6d6"/>
<rect x="128.99" y="485.26" width="0.8" height="33.24" fill="#d6d6d6"/>
<rect x="132.52" y="487.38" width="0.8" height="31.12" fill="#d6d6d6"/>
<rect x="137.56" y="486.31" width="0.8" height="32.19" fill="#d6d6d6"/>
<rect x="143.37" y="496.8" width="0.8" height="21.7" fill="#d6d6d6"/>
<rect x="149.96" y="492.72" width="0.8" height="25.78" fill="#d6d6d6"/>
<rect x="153.06" y="500.44" width="0.8" height="18.06" fill="#d6d6d6"/>
<rect x="158.03" y="493.29" width="0.8" height="25.21" fill="#d6d6d6"/>
<rect x="162.24" y="498.25" width="0.8" height="20.25" fill="#d6d6d6"/>
<rect x="166.61" y="495.44" width="0.8" height="23.06" fill="#d6d6d6"/>
<rect x="172.97" y="500.47" width="0.8" height="18.03" fill="#d6d6d6"/>
<rect x="178.98" y="487.07" width="0.8" height="31.43" fill="#d6d6d6"/>
<rect x="182.46" y="485.68" width="0.8" height="32.82" fill="#d6d6d6"/>
<rect x="188.31" y="486.07" width="0.8" height="32.43" fill="#d6d6d6"/>
<rect x="192.47" y="494.54" width="0.8" height="23.96" fill="#d6d6d6"/>
<rect x="197.04" y="484.52" width="0.8" height="33.98" fill="#d6d6d6"/>
<rect x="202.4" y="494.73" width="0.8" height="23.77" fill="#d6d6d6"/>
<rect x="207.11" y="496.1" width="0.8" height="22.4" fill="#d6d6d6"/>
<rect x="210.3" y="498.87" width="0.8" height="19.63" fill="#d6d6d6"/>
<rect x="216.64" y="495.93" width="0.8" height="22.57" fill="#d6d6d6"/>
<rect x="223.38" y="496.51" width="0.8" height="21.99" fill="#d6d6d6"/>
<rect x="227.45" y="492.32" width="0.8" height="26.18" fill="#d6d6d6"/>
<rect x="231.21" y="494.53" width="0.8" height="23.97" fill="#d6d6d6"/>
<rect x="238.03" y="486.35" width="0.8" height="32.15" fill="#d6d6d6"/>
<rect x="244.28" y="490.41" width="0.8" height="28.09" fill="#d6d6d6"/>
<rect x="250.93" y="485.45" width="0.8" height="33.05" fill="#d6d6d6"/>
<rect x="256.13" y="488.99" width="0.8" height="29.51" fill="#d6d6d6"/>
<rect x="259.33" y="488.78" width="0.8" height="29.72" fill="#d6d6d6"/>
<rect x="264.13" y="488.46" width="0.8" height="30.04" fill="#d6d6d6"/>
<polygon points="64.7,520.5 64.8,500.77 65.3,505.35 65.8,507.02 66.3,502.93 66.8,495.37 67.3,491.73 67.8,501.16 68.3,506.73 68.8,507.04 69.3,507.74 69.8,506.4 70.3,505.71 70.8,508.93 71.3,509.76 71.8,508.29 72.3,508.05 72.8,503.49 73.3,495.33 73.8,501.4 74.3,503.34 74.8,501.92 75.3,500.87 75.8,500.78 76.3,496.76 76.8,500.32 77.3,499.84 77.8,502.42 78.3,506.71 78.8,508.39 79.3,507.42 79.8,503.99 80.3,506.85 80.8,507.11 81.3,506.05 81.8,505.88 82.3,504.85 82.8,506.69 83.3,507.46 83.8,508.13 84.3,508.96 84.8,508.41 85.3,506.07 85.8,500.96 86.3,505.71 86.8,508.12 87.3,508.22 87.8,506.96 88.3,506.23 88.8,503.02 89.3,496.36 89.8,492.08 90.3,501.1 90.8,506.26 91.3,509 91.8,509.64 92.3,509.01 92.8,506.51 93.3,501.34 93.8,506.23 94.3,502.98 94.8,493.6 95.3,501.79 95.8,504.33 96.3,502.26 96.8,504.58 97.3,502.03 97.8,493.73 98.3,498.95 98.8,503.87 99.3,507.59 99.8,508.88 100.3,506.79 100.8,502.11 101.3,502.63 101.8,499.62 102.3,504.54 102.8,502.95 103.3,496.27 103.8,490.65 104.3,496.49 104.8,499.17 105.3,500.15 105.8,502.97 106.3,506.56 106.8,507.49 107.3,508.82 107.8,509.55 108.3,509.09 108.8,507.84 109.3,505.78 109.8,500.88 110.3,492.7 110.8,496.13 111.3,494.59 111.8,494.14 112.3,496.58 112.8,504.58 113.3,509.48 113.8,509.69 114.3,509.56 114.8,508.1 115.3,504.33 115.8,496.4 116.3,496.69 116.8,500.39 117.3,500.08 117.8,496.27 118.3,501 118.8,501.84 119.3,496.76 119.8,501.53 120.3,503.12 120.8,507.65 121.3,506.47 121.8,502.46 122.3,503.17 122.8,500.48 123.3,494.22 123.8,501.77 124.3,501.5 124.8,493.24 125.3,500.44 125.8,505.95 126.3,508.68 126.8,505.59 127.3,499.64 127.8,502.56 128.3,503.66 128.8,501.46 129.3,496.19 129.8,503.06 130.3,504.71 130.8,503.15 131.3,506.22 131.8,500.78 132.3,491.11 132.8,500.1 133.3,501.34 133.8,497.08 134.3,500.88 134.8,500.77 135.3,502.25 135.8,506.9 136.3,508.98 136.8,508.24 137.3,507.14 137.8,503.51 138.3,505.8 138.8,505.27 139.3,502.27 139.8,495.67 140.3,503.04 140.8,506.97 141.3,504.99 141.8,500.01 142.3,501.69 142.8,499.64 143.3,504.41 143.8,506.04 144.3,505.4 144.8,506.62 145.3,505.2 145.8,506.97 146.3,504.4 146.8,498.69 147.3,504.25 147.8,506.64 148.3,503.36 148.8,506.71 149.3,508.13 149.8,507.23 150.3,505.62 150.8,501.14 151.3,503.94 151.8,503.5 152.3,506.03 152.8,503.5 153.3,497.39 153.8,502.42 154.3,503.87 154.8,500.99 155.3,498.25 155.8,503.81 156.3,506.1 156.8,507.35 157.3,506.46 157.8,502.9 158.3,504.67 158.8,503.36 159.3,498.76 159.8,489.78 160.3,494.22 160.8,493.26 161.3,492.59 161.8,500.88 162.3,504.2 162.8,497.88 163.3,501.49 163.8,506.87 164.3,509.66 164.8,507.46 165.3,508.68 165.8,507.7 166.3,505.78 166.8,501.02 167.3,498.03 167.8,495.07 168.3,500.57 168.8,502.08 169.3,504.12 169.8,503.99 170.3,500.64 170.8,498.61 171.3,500.13 171.8,497.57 172.3,503.24 172.8,501.55 173.3,492.04 173.8,496.45 174.3,502.5 174.8,505 175.3,504.47 175.8,507.22 176.3,508.68 176.8,507.58 177.3,504.05 177.8,506.66 178.3,506.63 178.8,507.39 179.3,508.21 179.8,506.47 180.3,501.64 180.8,502.87 181.3,498.29 181.8,489.22 182.3,493.83 182.8,492.95 183.3,502.54 183.8,508.59 184.3,507.12 184.8,503.12 185.3,507.37 185.8,508.98 186.3,503.7 186.8,494.97 187.3,496.03 187.8,502.45 188.3,499.8 188.8,490.27 189.3,497.46 189.8,499.97 190.3,505.81 190.8,507.27 191.3,504.08 191.8,508.11 192.3,504.76 192.8,498.25 193.3,500.79 193.8,499.4 194.3,499.28 194.8,494.89 195.3,496.78 195.8,493.84 196.3,501.87 196.8,505.78 197.3,503.45 197.8,497.35 198.3,505.05 198.8,509.14 199.3,507.27 199.8,509.22 200.3,509.11 200.8,508.36 201.3,507.81 201.8,506.8 202.3,505.66 202.8,503.61 203.3,498.25 203.8,503.5 204.3,505.43 204.8,508.09 205.3,508.44 205.8,509.84 206.3,509.45 206.8,507.17 207.3,502.38 207.8,504.56 208.3,505.39 208.8,500.32 209.3,489.7 209.8,494.61 210.3,494.22 210.8,501.24 211.3,503.14 211.8,498.75 212.3,504.49 212.8,507.1 213.3,504.08 213.8,497.85 214.3,501.02 214.8,500.29 215.3,502.24 215.8,502.8 216.3,505.71 216.8,506.06 217.3,507.45 217.8,507.75 218.3,506.35 218.8,502.26 219.3,507.21 219.8,509.66 220.3,506.79 220.8,501.31 221.3,499.65 221.8,503.07 222.3,506.04 222.8,506.25 223.3,505.11 223.8,502.8 224.3,504.81 224.8,503.79 225.3,500.99 225.8,494.3 226.3,495.81 226.8,504.21 227.3,504.03 227.8,498.44 228.3,504.74 228.8,507.98 229.3,508.28 229.8,506.29 230.3,504.49 230.8,503.64 231.3,505.31 231.8,504.06 232.3,507.24 232.8,507.92 233.3,509.09 233.8,508.17 234.3,509.91 234.8,509.99 235.3,509 235.8,508.09 236.3,504.87 236.8,503.88 237.3,499.63 237.8,501.22 238.3,499.75 238.8,495.58 239.3,503.26 239.8,502.89 240.3,495.99 240.8,501.9 241.3,504.14 241.8,505.75 242.3,504.83 242.8,500.88 243.3,498.35 243.8,501.24 244.3,500.3 244.8,497.46 245.3,502.49 245.8,503.97 246.3,503.17 246.8,498.97 247.3,500.87 247.8,501.26 248.3,502.71 248.8,500.66 249.3,503.92 249.8,503.95 250.3,507.32 250.8,508.21 251.3,507.42 251.8,505.57 252.3,502.57 252.8,496.02 253.3,501.46 253.8,503.12 254.3,504.15 254.8,504.03 255.3,507.45 255.8,506.26 256.3,502.34 256.8,502.61 257.3,504.96 257.8,504.3 258.3,500.67 258.8,500.74 259.3,496.87 259.8,503.31 260.3,506.37 260.8,505.2 261.3,501.06 261.8,503.74 262.3,503.15 262.8,498.04 263.3,504.73 263.8,508.36 264.3,506.89 264.8,502.86 265.3,499.9 265.8,502.38 266.3,501.37 266.8,505.74 267.3,507.27 267.8,505.83 268.3,501.58 268.8,505.41 269.3,506.34 269.8,509.16 270.3,509.9 270.8,509.02 271.5,520.5" fill="#4d4d4d"/>
<rect x="69.7" y="505.21" width="1.5" height="13.29" fill="#c4c4c4"/>
<rect x="76.26" y="500.09" width="1.5" height="18.41" fill="#c4c4c4"/>
<rect x="82.91" y="503.72" width="1.5" height="14.78" fill="#c4c4c4"/>
<rect x="89.82" y="505.12" width="1.5" height="13.38" fill="#c4c4c4"/>
<rect x="97.21" y="499.69" width="1.5" height="18.81" fill="#c4c4c4"/>
<rect x="104.02" y="502.25" width="1.5" height="16.25" fill="#c4c4c4"/>
<rect x="110.88" y="503.04" width="1.5" height="15.46" fill="#c4c4c4"/>
<rect x="117.86" y="506.16" width="1.5" height="12.34" fill="#c4c4c4"/>
<rect x="124.55" y="505.84" width="1.5" height="12.66" fill="#c4c4c4"/>
<rect x="132.14" y="503.52" width="1.5" height="14.98" fill="#c4c4c4"/>
<rect x="138.9" y="500.25" width="1.5" height="18.25" fill="#c4c4c4"/>
<rect x="146.6" y="503.9" width="1.5" height="14.6" fill="#c4c4c4"/>
<rect x="153.27" y="505.96" width="1.5" height="12.54" fill="#c4c4c4"/>
<rect x="159.87" y="504.76" width="1.5" height="13.74" fill="#c4c4c4"/>
<rect x="166.48" y="505.59" width="1.5" height="12.91" fill="#c4c4c4"/>
<rect x="173.29" y="502.94" width="1.5" height="15.56" fill="#c4c4c4"/>
<rect x="180.86" y="501.5" width="1.5" height="17" fill="#c4c4c4"/>
<rect x="187.85" y="504.19" width="1.5" height="14.31" fill="#c4c4c4"/>
<rect x="194.98" y="504.49" width="1.5" height="14.01" fill="#c4c4c4"/>
<rect x="201.89" y="507" width="1.5" height="11.5" fill="#c4c4c4"/>
<rect x="208.72" y="499.76" width="1.5" height="18.74" fill="#c4c4c4"/>
<rect x="215.37" y="503.47" width="1.5" height="15.03" fill="#c4c4c4"/>
<rect x="222.63" y="500.6" width="1.5" height="17.9" fill="#c4c4c4"/>
<rect x="229.39" y="505.33" width="1.5" height="13.17" fill="#c4c4c4"/>
<rect x="236.19" y="504.3" width="1.5" height="14.2" fill="#c4c4c4"/>
<rect x="243.22" y="499.87" width="1.5" height="18.63" fill="#c4c4c4"/>
<rect x="250.74" y="500.52" width="1.5" height="17.98" fill="#c4c4c4"/>
<rect x="257.27" y="507.24" width="1.5" height="11.26" fill="#c4c4c4"/>
<rect x="264.62" y="500.33" width="1.5" height="18.17" fill="#c4c4c4"/>
<rect x="64.2" y="517.9" width="207.3" height="3" fill="#5e5e5e"/>
<rect x="148" y="391.5" width="1" height="127" fill="#c8c8c8"/>
<rect x="151.8" y="433.8" width="1" height="84.7" fill="#aaa"/>
<rect x="205.5" y="471.8" width="1" height="46.7" fill="#c4c4c4"/>
<rect x="245.1" y="471" width="1" height="47.5" fill="#c4c4c4"/>
<rect x="253.5" y="481" width="1" height="37.5" fill="#ccc"/>
<rect x="69.4" y="383.4" width="0.8" height="135.1" fill="#f2f2f2"/>
<g stroke="#777" stroke-width="1" fill="none">
<path d="M60.7 473.47 H271.5"/>
<path d="M60.7 428.43 H271.5"/>
<path d="M60.7 383.4 H271.5 V518.5"/>
<path d="M64.2 383.4 V519.5"/>
<path d="M60.7 518.5 H64.2"/>
</g>
<g font-size="8.4" font-weight="bold" fill="#111" text-anchor="end">
<text x="56.3" y="520.9">0</text>
<text x="56.3" y="475.87">500</text>
<text x="56.3" y="430.83">1,000</text>
<text x="56.3" y="385.8">1,500</text>
</g>
<text transform="translate(26.6 455.2) rotate(-90)" font-size="8.7" font-weight="bold" fill="#111" text-anchor="middle">Arbitrary units</text>
<text x="64.6" y="534.8" font-size="8.6" font-weight="bold" fill="#111">N</text>
<text x="158.3" y="534.8" font-size="8.8" font-weight="bold" fill="#111" text-anchor="middle">Peptide position</text>
<text x="266.6" y="534.8" font-size="8.6" font-weight="bold" fill="#111">C</text>
<path d="M321.5 447 C321.83 445.83 322.72 442.2 323.5 440 C324.28 437.8 325.25 435.97 326.2 433.8 C327.15 431.63 327.93 428.8 329.2 427 C330.47 425.2 332 423.92 333.8 423 C335.6 422.08 338.2 422 340 421.5 C341.8 421 343.97 421.02 344.6 420 C345.23 418.98 343.4 416.48 343.8 415.4 C344.2 414.32 345.58 413.77 347 413.5 C348.42 413.23 350.63 412.97 352.3 413.8 C353.97 414.63 355.58 416.97 357 418.5 C358.42 420.03 359.53 421.47 360.8 423 C362.07 424.53 363.2 426.78 364.6 427.7 C366 428.62 367.8 427.98 369.2 428.5 C370.6 429.02 372.1 429.78 373 430.8 C373.9 431.82 374.6 433.45 374.6 434.6 C374.6 435.75 373.9 436.8 373 437.7 C372.1 438.6 369.83 439.62 369.2 440" fill="none" stroke="#737373" stroke-width="1.05" stroke-linecap="round" stroke-linejoin="round"/>
<path d="M344.6 420.8 C345.17 421.5 347.23 423.33 348 425 C348.77 426.67 349.12 428.55 349.2 430.8 C349.28 433.05 349.27 435.93 348.5 438.5 C347.73 441.07 345.25 444.92 344.6 446.2" fill="none" stroke="#737373" stroke-width="1.05" stroke-linecap="round" stroke-linejoin="round"/>
<path d="M338.5 449.2 C339.25 448.5 341.47 446.28 343 445 C344.53 443.72 346.03 442.25 347.7 441.5 C349.37 440.75 351.2 440.62 353 440.5 C354.8 440.38 356.57 440.75 358.5 440.8 C360.43 440.85 363.58 440.8 364.6 440.8" fill="none" stroke="#737373" stroke-width="1.05" stroke-linecap="round" stroke-linejoin="round"/>
<path d="M321.5 439.2 C323.42 439.97 328.38 442.63 333 443.8 C337.62 444.97 344.57 446.2 349.2 446.2 C353.83 446.2 356.95 444.58 360.8 443.8 C364.65 443.02 368.47 442.27 372.3 441.5 C376.13 440.73 379.95 439.38 383.8 439.2 C387.65 439.02 393.47 440.2 395.4 440.4" fill="none" stroke="#737373" stroke-width="1.05" stroke-linecap="round" stroke-linejoin="round"/>
<path d="M315 469.6 C313.67 469.8 308.53 469.83 307 470.8 C305.47 471.77 305.05 473.87 305.8 475.4 C306.55 476.93 309.97 478.47 311.5 480 C313.03 481.53 313.83 484.4 315 484.6 C316.17 484.8 316.38 481.58 318.5 481.2 C320.62 480.82 324.25 480.97 327.7 482.3 C331.15 483.63 336.12 486.88 339.2 489.2 C342.28 491.52 344.85 493.9 346.2 496.2 C347.55 498.5 346.73 500.9 347.3 503 C347.87 505.1 348.65 507.43 349.6 508.8 C350.55 510.17 352.43 510.23 353 511.2 C353.57 512.17 353.57 513.47 353 514.6 C352.43 515.73 349.4 517.23 349.6 518 C349.8 518.77 352.47 519.2 354.2 519.2 C355.93 519.2 358.45 519.15 360 518 C361.55 516.85 363.12 514.4 363.5 512.3 C363.88 510.2 362.12 506.95 362.3 505.4 C362.48 503.85 363.32 503.9 364.6 503 C365.88 502.1 369.1 500.5 370 500" fill="none" stroke="#737373" stroke-width="1.05" stroke-linecap="round" stroke-linejoin="round"/>
<path d="M346.2 473 C347.83 472.83 352.53 472.37 356 472 C359.47 471.63 364.03 471.38 367 470.8 C369.97 470.22 371.3 468.63 373.8 468.5 C376.3 468.37 379.3 470.08 382 470 C384.7 469.92 388.67 468.33 390 468" fill="none" stroke="#737373" stroke-width="1.05" stroke-linecap="round" stroke-linejoin="round"/>
<path d="M352 482 C353 482.67 356 485.5 358 486 C360 486.5 362.33 484.33 364 485 C365.67 485.67 366.33 488.17 368 490 C369.67 491.83 372 495.33 374 496 C376 496.67 379 494.33 380 494" fill="none" stroke="#737373" stroke-width="1.05" stroke-linecap="round" stroke-linejoin="round"/>
<path d="M340 444 C341 444.83 344 448.5 346 449 C348 449.5 349.67 448.33 352 447 C354.33 445.67 358.67 442 360 441" fill="none" stroke="#737373" stroke-width="1.05" stroke-linecap="round" stroke-linejoin="round"/>
<path d="M355 462 C356.17 462.67 359.17 465.83 362 466 C364.83 466.17 368 463.5 372 463 C376 462.5 381.67 463.83 386 463 C390.33 462.17 394 459.17 398 458 C402 456.83 408 456.33 410 456" fill="none" stroke="#737373" stroke-width="1.05" stroke-linecap="round" stroke-linejoin="round"/>
<path d="M392.3 402.3 C393.08 402.05 395.97 400.02 397 400.8 C398.03 401.58 398.5 405.22 398.5 407 C398.5 408.78 396.75 410.23 397 411.5 C397.25 412.77 398.73 414.35 400 414.6 C401.27 414.85 403.83 413.27 404.6 413" fill="none" stroke="#737373" stroke-width="1.05" stroke-linecap="round" stroke-linejoin="round"/>
<path d="M360 422.3 C361 422.3 364.2 421.27 366 422.3 C367.8 423.33 369.5 426.45 370.8 428.5 C372.1 430.55 374.07 432.55 373.8 434.6 C373.53 436.65 369.17 439.23 369.2 440.8 C369.23 442.37 373.2 443.47 374 444" fill="none" stroke="#737373" stroke-width="1.05" stroke-linecap="round" stroke-linejoin="round"/>
<path d="M378 430 C379 429.33 382 426 384 426 C386 426 388.67 428 390 430 C391.33 432 392.33 435.5 392 438 C391.67 440.5 387.67 443 388 445 C388.33 447 391.67 449.67 394 450 C396.33 450.33 400.67 447.5 402 447" fill="none" stroke="#737373" stroke-width="1.05" stroke-linecap="round" stroke-linejoin="round"/>
<path d="M393 425 C394.17 426 399.33 428.5 400 431 C400.67 433.5 396.33 437.5 397 440 C397.67 442.5 401.5 445.67 404 446 C406.5 446.33 409.67 442 412 442 C414.33 442 417 445.33 418 446" fill="none" stroke="#737373" stroke-width="1.05" stroke-linecap="round" stroke-linejoin="round"/>
<path d="M385 455 C386.17 454.17 389.5 450.5 392 450 C394.5 449.5 397.67 450.5 400 452 C402.33 453.5 403.67 458.5 406 459 C408.33 459.5 411.5 455 414 455 C416.5 455 418.33 458.83 421 459 C423.67 459.17 428.5 456.5 430 456" fill="none" stroke="#737373" stroke-width="1.05" stroke-linecap="round" stroke-linejoin="round"/>
<path d="M407 436 C408 436.67 411.17 439.83 413 440 C414.83 440.17 416 436.67 418 437 C420 437.33 423 440.33 425 442 C427 443.67 428.17 446.33 430 447 C431.83 447.67 435 446.17 436 446" fill="none" stroke="#737373" stroke-width="1.05" stroke-linecap="round" stroke-linejoin="round"/>
<path d="M423 384 C423.83 385 426.83 387.83 428 390 C429.17 392.17 429.17 395 430 397 C430.83 399 432.5 401.17 433 402" fill="none" stroke="#737373" stroke-width="1.05" stroke-linecap="round" stroke-linejoin="round"/>
<path d="M464.6 442 C465.5 442.25 468.1 442.83 470 443.5 C471.9 444.17 473.7 445.83 476 446 C478.3 446.17 482.5 444.75 483.8 444.5" fill="none" stroke="#737373" stroke-width="1.05" stroke-linecap="round" stroke-linejoin="round"/>
<path d="M441 458.8 C441.33 459.83 442.17 462.97 443 465 C443.83 467.03 444.83 469.17 446 471 C447.17 472.83 449.67 474.17 450 476 C450.33 477.83 448.33 481 448 482" fill="none" stroke="#737373" stroke-width="1.05" stroke-linecap="round" stroke-linejoin="round"/>
<path d="M452 486 C453 486.67 457.33 488.33 458 490 C458.67 491.67 457.33 494.33 456 496 C454.67 497.67 452 498.67 450 500 C448 501.33 444.33 502.5 444 504 C443.67 505.5 447.33 508.17 448 509" fill="none" stroke="#737373" stroke-width="1.05" stroke-linecap="round" stroke-linejoin="round"/>
<path d="M376 446 C376.67 447 380 450 380 452 C380 454 375.83 456 376 458 C376.17 460 379 463.33 381 464 C383 464.67 386.83 462.33 388 462" fill="none" stroke="#737373" stroke-width="1.05" stroke-linecap="round" stroke-linejoin="round"/>
<path d="M404 462 C405 463.17 407.67 468.33 410 469 C412.33 469.67 415.33 465.83 418 466 C420.67 466.17 423.33 470.17 426 470 C428.67 469.83 431.67 465.33 434 465 C436.33 464.67 439 467.5 440 468" fill="none" stroke="#737373" stroke-width="1.05" stroke-linecap="round" stroke-linejoin="round"/>
<path d="M426 512 C427 512.5 429.67 515 432 515 C434.33 515 437.67 513.5 440 512 C442.33 510.5 445 507 446 506" fill="none" stroke="#737373" stroke-width="1.05" stroke-linecap="round" stroke-linejoin="round"/>
<path d="M384 466 C385 467 389.67 470 390 472 C390.33 474 385.67 476.17 386 478 C386.33 479.83 391 482.17 392 483" fill="none" stroke="#737373" stroke-width="1.05" stroke-linecap="round" stroke-linejoin="round"/>
<path d="M365 478 C364.17 479 360.17 482 360 484 C359.83 486 363.33 489 364 490" fill="none" stroke="#737373" stroke-width="1.05" stroke-linecap="round" stroke-linejoin="round"/>
<path d="M396 481 C396.83 479.5 398.5 474.33 401 472 C403.5 469.67 407 468.17 411 467 C415 465.83 420.33 464.83 425 465 C429.67 465.17 435 466.5 439 468 C443 469.5 446.5 471.5 449 474 C451.5 476.5 453.67 480.17 454 483 C454.33 485.83 453.17 489 451 491 C448.83 493 445.5 494.08 441 495 C436.5 495.92 429.33 496.42 424 496.5 C418.67 496.58 413.33 496.25 409 495.5 C404.67 494.75 400.5 493.42 398 492 C395.5 490.58 394.33 488.83 394 487 C393.67 485.17 395.67 482 396 481" fill="#b6b6b6"/>
<path d="M428 474 C429.33 473.5 433.17 471.17 436 471 C438.83 470.83 442.5 471.67 445 473 C447.5 474.33 450.17 476.83 451 479 C451.83 481.17 451.33 484.33 450 486 C448.67 487.67 445.67 488.67 443 489 C440.33 489.33 436.5 489 434 488 C431.5 487 429 485.33 428 483 C427 480.67 428 475.5 428 474" fill="#999"/>
<path d="M408 479 C408.83 478.17 410.83 475 413 474 C415.17 473 418.33 472.67 421 473 C423.67 473.33 427 474.33 429 476 C431 477.67 432.67 480.5 433 483 C433.33 485.5 432.5 488.92 431 491 C429.5 493.08 426.67 494.83 424 495.5 C421.33 496.17 417.5 495.92 415 495 C412.5 494.08 410.17 492.67 409 490 C407.83 487.33 408.17 480.83 408 479" fill="#949494"/>
<path d="M411 466 C412.17 465.58 415.5 463.75 418 463.5 C420.5 463.25 424.17 463.75 426 464.5 C427.83 465.25 429 466.67 429 468 C429 469.33 427.83 471.58 426 472.5 C424.17 473.42 420.33 473.75 418 473.5 C415.67 473.25 413.17 472.25 412 471 C410.83 469.75 411.17 466.83 411 466" fill="#707070"/>
<ellipse cx="417" cy="480" rx="3.2" ry="2.4" fill="#c6c6c6"/>
<ellipse cx="425" cy="486" rx="3.0" ry="2.2" fill="#bcbcbc"/>
<ellipse cx="414" cy="489" rx="2.4" ry="1.8" fill="#b4b4b4"/>
<ellipse cx="438" cy="478" rx="3" ry="2.2" fill="#c8c8c8"/>
<ellipse cx="444" cy="484" rx="2.2" ry="1.8" fill="#bdbdbd"/>
<ellipse cx="403" cy="484" rx="3" ry="2.4" fill="#d0d0d0"/>
<ellipse cx="420" cy="469" rx="2.6" ry="1.6" fill="#9a9a9a"/>
<ellipse cx="431" cy="469.5" rx="2.5" ry="1.8" fill="#d4d4d4"/>
<path d="M402.9 472.19 C404.44 472.18 409.07 472.6 412.15 472.09 C415.23 471.58 418.31 469.57 421.39 469.15 C424.48 468.73 427.56 469.81 430.64 469.55 C433.72 469.29 436.8 467.9 439.89 467.61 C442.97 467.31 447.59 467.74 449.13 467.77" fill="none" stroke="#b6b6b6" stroke-width="1.45" stroke-linecap="round" stroke-linejoin="round"/>
<polygon points="449.11,469.08 451.02,467.81 449.16,466.47" fill="#b6b6b6"/>
<path d="M398.9 475.08 C400.29 475 404.45 474.84 407.23 474.58 C410 474.32 412.78 474.24 415.56 473.54 C418.34 472.84 421.11 471.02 423.89 470.39 C426.67 469.75 429.44 468.96 432.22 469.74 C435 470.52 439.16 474.18 440.55 475.07" fill="none" stroke="#8c8c8c" stroke-width="1.49" stroke-linecap="round" stroke-linejoin="round"/>
<path d="M400.47 475.62 C402.04 475.9 406.74 476.82 409.87 477.28 C413.01 477.73 416.14 478.56 419.28 478.36 C422.41 478.15 425.55 476.58 428.68 476.06 C431.82 475.54 434.95 475.49 438.09 475.23 C441.22 474.98 445.92 474.66 447.49 474.54" fill="none" stroke="#7e7e7e" stroke-width="1.8" stroke-linecap="round" stroke-linejoin="round"/>
<path d="M394.79 478.56 C396.4 478.43 401.22 477.93 404.43 477.79 C407.64 477.65 410.85 477.38 414.07 477.73 C417.28 478.09 420.49 479.88 423.7 479.92 C426.91 479.96 430.13 478.2 433.34 477.98 C436.55 477.76 441.37 478.48 442.97 478.58" fill="none" stroke="#a8a8a8" stroke-width="1.78" stroke-linecap="round" stroke-linejoin="round"/>
<path d="M394.56 483.02 C396.09 482.8 400.69 481.75 403.76 481.68 C406.82 481.61 409.88 482.97 412.95 482.62 C416.01 482.27 419.08 479.69 422.14 479.59 C425.21 479.49 428.27 481.93 431.34 482.01 C434.4 482.1 439 480.43 440.53 480.12" fill="none" stroke="#9a9a9a" stroke-width="1.24" stroke-linecap="round" stroke-linejoin="round"/>
<polygon points="440.76,481.21 442.11,479.79 440.31,479.03" fill="#9a9a9a"/>
<path d="M395.09 486.38 C396.68 486.1 401.45 484.83 404.63 484.73 C407.81 484.63 410.99 485.76 414.16 485.78 C417.34 485.79 420.52 485.16 423.7 484.82 C426.88 484.48 430.06 483.84 433.24 483.74 C436.41 483.64 441.18 484.15 442.77 484.23" fill="none" stroke="#8c8c8c" stroke-width="1.92" stroke-linecap="round" stroke-linejoin="round"/>
<path d="M401.21 485.1 C402.87 485.31 407.84 485.92 411.15 486.35 C414.47 486.78 417.78 487.35 421.1 487.68 C424.41 488.01 427.73 488.29 431.04 488.31 C434.36 488.34 437.67 488.64 440.99 487.82 C444.3 487.01 449.27 484.15 450.93 483.42" fill="none" stroke="#b6b6b6" stroke-width="2.15" stroke-linecap="round" stroke-linejoin="round"/>
<path d="M403.46 490.97 C404.66 491.25 408.26 492.78 410.66 492.63 C413.07 492.48 415.47 490.27 417.87 490.06 C420.27 489.84 422.68 491.34 425.08 491.35 C427.48 491.35 429.88 490.13 432.29 490.08 C434.69 490.03 438.29 490.91 439.49 491.07" fill="none" stroke="#9a9a9a" stroke-width="1.67" stroke-linecap="round" stroke-linejoin="round"/>
<path d="M395.35 494.94 C397.16 495.17 402.57 496.63 406.18 496.29 C409.79 495.95 413.4 493.28 417.01 492.9 C420.62 492.53 424.24 493.75 427.85 494.05 C431.46 494.35 435.07 494.5 438.68 494.69 C442.29 494.88 447.7 495.13 449.51 495.21" fill="none" stroke="#b6b6b6" stroke-width="1.86" stroke-linecap="round" stroke-linejoin="round"/>
<polygon points="449.43,496.89 451.93,495.33 449.59,493.54" fill="#b6b6b6"/>
<path d="M398 469 C399.5 470.33 403.5 476 407 477 C410.5 478 415.17 474.17 419 475 C422.83 475.83 425.83 481.33 430 482 C434.17 482.67 441.67 479.5 444 479" fill="none" stroke="#6e6e6e" stroke-width="0.9" stroke-linecap="round" stroke-linejoin="round"/>
<path d="M399 489 C400.83 488.33 406.33 484.67 410 485 C413.67 485.33 416.83 490.67 421 491 C425.17 491.33 430.5 487 435 487 C439.5 487 445.83 490.33 448 491" fill="none" stroke="#6e6e6e" stroke-width="0.9" stroke-linecap="round" stroke-linejoin="round"/>
<path d="M430 466 C431 465.33 433.67 462 436 462 C438.33 462 441.67 464.33 444 466 C446.33 467.67 448 470 450 472 C452 474 455.17 475.67 456 478 C456.83 480.33 455.17 484.67 455 486" fill="none" stroke="#777" stroke-width="0.9" stroke-linecap="round" stroke-linejoin="round"/>
<path d="M385 462.5 C386.5 462.25 391 461.45 394 461 C397 460.55 400.17 460.1 403 459.8 C405.83 459.5 409.67 459.3 411 459.2" fill="none" stroke="#b2b2b2" stroke-width="2.8" stroke-linecap="round" stroke-linejoin="round"/>
<polygon points="411.19,461.71 414.63,458.93 410.81,456.69" fill="#b2b2b2"/>
<path d="M357 478 C358.5 478.5 362.83 480.17 366 481 C369.17 481.83 374.33 482.67 376 483" fill="none" stroke="#8e8e8e" stroke-width="3" stroke-linecap="round" stroke-linejoin="round"/>
<path d="M378 466 C379.33 466.5 383.33 468.67 386 469 C388.67 469.33 392.67 468.17 394 468" fill="none" stroke="#9a9a9a" stroke-width="2.6" stroke-linecap="round" stroke-linejoin="round"/>
<path d="M419 447 C419.83 446.83 422.5 445.33 424 446 C425.5 446.67 427.25 449 428 451 C428.75 453 428.83 455.83 428.5 458 C428.17 460.17 427.42 463.08 426 464 C424.58 464.92 421.5 464.67 420 463.5 C418.5 462.33 417.17 459.75 417 457 C416.83 454.25 418.67 448.67 419 447" fill="#8e8e8e"/>
<path d="M419.5 454 C420.25 453.83 422.83 452.5 424 453 C425.17 453.5 426.5 455.67 426.5 457 C426.5 458.33 425.08 460.5 424 461 C422.92 461.5 420.75 461.17 420 460 C419.25 458.83 419.58 455 419.5 454" fill="#4e4e4e"/>
<path d="M390.4 445.5 C391.17 445.25 393.82 443.75 395 444 C396.18 444.25 397.5 446 397.5 447 C397.5 448 396.08 449.58 395 450 C393.92 450.42 391.77 450.25 391 449.5 C390.23 448.75 390.5 446.17 390.4 445.5" fill="#4a4a4a"/>
<path d="M396 448 C396.58 448.83 398.33 451 399.5 453 C400.67 455 402.42 458.83 403 460" fill="none" stroke="#808080" stroke-width="3.6" stroke-linecap="round" stroke-linejoin="round"/>
<path d="M352 468 C354 469 359.67 472.5 364 474 C368.33 475.5 375.67 476.5 378 477" fill="none" stroke="#a0a0a0" stroke-width="2.4" stroke-linecap="round" stroke-linejoin="round"/>
<polygon points="377.55,479.11 381.05,477.65 378.45,474.89" fill="#a0a0a0"/>
<path d="M360 456 C362 456.33 368 457.83 372 458 C376 458.17 382 457.17 384 457" fill="none" stroke="#a6a6a6" stroke-width="2" stroke-linecap="round" stroke-linejoin="round"/>
<polygon points="384.15,458.79 386.59,456.78 383.85,455.21" fill="#a6a6a6"/>
<path d="M327.7 457 C329.25 458.5 333.95 462.83 337 466 C340.05 469.17 343.67 473.58 346 476 C348.33 478.42 350.17 479.75 351 480.5" fill="none" stroke="#7e7e7e" stroke-width="3.8" stroke-linecap="round" stroke-linejoin="round"/>
<polygon points="348.71,483.04 354.67,483.8 353.29,477.96" fill="#7e7e7e"/>
<path d="M334.6 461.5 C336.17 462.92 340.77 467.08 344 470 C347.23 472.92 352.33 477.5 354 479" fill="none" stroke="#969696" stroke-width="3.2" stroke-linecap="round" stroke-linejoin="round"/>
<polygon points="352.07,481.14 357.09,481.78 355.93,476.86" fill="#969696"/>
<path d="M321.7 451.3 C322.58 452.17 325.42 454.55 327 456.5 C328.58 458.45 330.5 461.92 331.2 463" fill="none" stroke="#4a4a4a" stroke-width="3.8" stroke-linecap="round" stroke-linejoin="round"/>
<path d="M335.4 434.6 C334.83 435.33 333.03 437.6 332 439 C330.97 440.4 329.67 442.33 329.2 443" fill="none" stroke="#7a7a7a" stroke-width="2.2" stroke-linecap="round" stroke-linejoin="round"/>
<path d="M347 452.6 C348.33 452.63 352.67 452.63 355 452.8 C357.33 452.97 360 453.47 361 453.6" fill="none" stroke="#3a3a3a" stroke-width="3.6" stroke-linecap="round" stroke-linejoin="round"/>
<polygon points="360.57,456.81 365.64,454.22 361.43,450.39" fill="#3a3a3a"/>
<path d="M314.5 466.6 C322 469 331 475 338 481 C342 485 344 488 345.6 490.4 L342.4 493.2 C338.5 489.5 333.5 486 328.5 482.5 C322.5 478.5 317.5 475 313.4 472.6 Z" fill="#535353"/>
<polygon points="346.6,488.6 348.2,496 341.2,493.6" fill="#555"/>
<path d="M315 468.4 C323 471 331 477 338 483" fill="none" stroke="#333" stroke-width="0.9"/>
<path d="M387.5 497.7 C389.52 498.57 396.13 501.32 399.6 502.9 C403.07 504.48 405.42 506.05 408.3 507.2 C411.18 508.35 413.17 509.08 416.9 509.8 C420.63 510.52 427.23 511.5 430.7 511.5 C434.17 511.5 436.53 510.08 437.7 509.8" fill="none" stroke="#3c3c3c" stroke-width="3.6" stroke-linecap="round" stroke-linejoin="round"/>
<path d="M399.6 492.5 C401 493.42 405.27 496.08 408 498 C410.73 499.92 413.67 502.33 416 504 C418.33 505.67 421 507.33 422 508" fill="none" stroke="#4a4a4a" stroke-width="3" stroke-linecap="round" stroke-linejoin="round"/>
<polygon points="420.5,510.25 425.24,510.16 423.5,505.75" fill="#4a4a4a"/>
<path d="M391 496 C394.17 495.75 403.83 495 410 494.5 C416.17 494 422.5 493.58 428 493 C433.5 492.42 440.5 491.33 443 491" fill="none" stroke="#9a9a9a" stroke-width="2.8" stroke-linecap="round" stroke-linejoin="round"/>
<polygon points="443.33,493.5 446.61,490.52 442.67,488.5" fill="#9a9a9a"/>
<path d="M404 499 C406 499.17 412 499.33 416 500 C420 500.67 426 502.5 428 503" fill="none" stroke="#5a5a5a" stroke-width="2.4" stroke-linecap="round" stroke-linejoin="round"/>
<polygon points="427.48,505.1 431.03,503.76 428.52,500.9" fill="#5a5a5a"/>
<path d="M375.4 511.5 C375.83 510.75 376.73 508.17 378 507 C379.27 505.83 381.33 505.08 383 504.5 C384.67 503.92 387.17 503.67 388 503.5" fill="none" stroke="#333" stroke-width="3.4" stroke-linecap="round" stroke-linejoin="round"/>
<path d="M426 503 C427.33 502.83 431.5 501.67 434 502 C436.5 502.33 439.83 504.5 441 505" fill="none" stroke="#444" stroke-width="2.6" stroke-linecap="round" stroke-linejoin="round"/>
<path d="M380 500 L387 497" fill="none" stroke="#6a6a6a" stroke-width="3" stroke-linecap="round" stroke-linejoin="round"/>
<circle cx="370" cy="491" r="4.6" fill="#8a8a8a" stroke="#555" stroke-width="1"/>
<circle cx="369" cy="490" r="1.8" fill="#c8c8c8"/>
<line x1="363.58" y1="448.97" x2="364.15" y2="447.87" stroke="#262626" stroke-width="5.2" stroke-linecap="round"/>
<line x1="364.15" y1="447.87" x2="365.62" y2="446.37" stroke="#262626" stroke-width="5.2" stroke-linecap="round"/>
<line x1="365.62" y1="446.37" x2="367.75" y2="444.86" stroke="#262626" stroke-width="5.2" stroke-linecap="round"/>
<line x1="367.75" y1="444.86" x2="370.2" y2="443.71" stroke="#262626" stroke-width="5.2" stroke-linecap="round"/>
<line x1="370.2" y1="443.71" x2="372.54" y2="443.21" stroke="#262626" stroke-width="5.2" stroke-linecap="round"/>
<line x1="372.54" y1="443.21" x2="374.38" y2="443.56" stroke="#262626" stroke-width="5.2" stroke-linecap="round"/>
<line x1="374.38" y1="443.56" x2="375.42" y2="444.74" stroke="#262626" stroke-width="5.2" stroke-linecap="round"/>
<line x1="368.25" y1="454.31" x2="368.82" y2="453.2" stroke="#262626" stroke-width="5.2" stroke-linecap="round"/>
<line x1="368.82" y1="453.2" x2="370.28" y2="451.71" stroke="#262626" stroke-width="5.2" stroke-linecap="round"/>
<line x1="370.28" y1="451.71" x2="372.42" y2="450.19" stroke="#262626" stroke-width="5.2" stroke-linecap="round"/>
<line x1="372.42" y1="450.19" x2="374.87" y2="449.04" stroke="#262626" stroke-width="5.2" stroke-linecap="round"/>
<line x1="374.87" y1="449.04" x2="377.21" y2="448.55" stroke="#262626" stroke-width="5.2" stroke-linecap="round"/>
<line x1="377.21" y1="448.55" x2="379.05" y2="448.89" stroke="#262626" stroke-width="5.2" stroke-linecap="round"/>
<line x1="379.05" y1="448.89" x2="380.09" y2="450.07" stroke="#262626" stroke-width="5.2" stroke-linecap="round"/>
<line x1="372.91" y1="459.64" x2="373.48" y2="458.53" stroke="#262626" stroke-width="5.2" stroke-linecap="round"/>
<line x1="373.48" y1="458.53" x2="374.95" y2="457.04" stroke="#262626" stroke-width="5.2" stroke-linecap="round"/>
<line x1="374.95" y1="457.04" x2="377.09" y2="455.53" stroke="#262626" stroke-width="5.2" stroke-linecap="round"/>
<line x1="377.09" y1="455.53" x2="379.54" y2="454.37" stroke="#262626" stroke-width="5.2" stroke-linecap="round"/>
<line x1="379.54" y1="454.37" x2="381.88" y2="453.88" stroke="#262626" stroke-width="5.2" stroke-linecap="round"/>
<line x1="381.88" y1="453.88" x2="383.72" y2="454.22" stroke="#262626" stroke-width="5.2" stroke-linecap="round"/>
<line x1="383.72" y1="454.22" x2="384.75" y2="455.41" stroke="#262626" stroke-width="5.2" stroke-linecap="round"/>
<line x1="368.58" y1="445.81" x2="366.8" y2="447.72" stroke="#474747" stroke-width="5.2" stroke-linecap="round"/>
<line x1="366.8" y1="447.72" x2="365.12" y2="448.98" stroke="#474747" stroke-width="5.2" stroke-linecap="round"/>
<line x1="365.12" y1="448.98" x2="363.95" y2="449.4" stroke="#474747" stroke-width="5.2" stroke-linecap="round"/>
<line x1="363.95" y1="449.4" x2="363.58" y2="448.97" stroke="#474747" stroke-width="5.2" stroke-linecap="round"/>
<line x1="375.42" y1="444.74" x2="375.52" y2="446.61" stroke="#474747" stroke-width="5.2" stroke-linecap="round"/>
<line x1="375.52" y1="446.61" x2="374.72" y2="448.87" stroke="#474747" stroke-width="5.2" stroke-linecap="round"/>
<line x1="374.72" y1="448.87" x2="373.25" y2="451.14" stroke="#474747" stroke-width="5.2" stroke-linecap="round"/>
<line x1="373.25" y1="451.14" x2="371.46" y2="453.06" stroke="#474747" stroke-width="5.2" stroke-linecap="round"/>
<line x1="371.46" y1="453.06" x2="369.79" y2="454.31" stroke="#474747" stroke-width="5.2" stroke-linecap="round"/>
<line x1="369.79" y1="454.31" x2="368.62" y2="454.73" stroke="#474747" stroke-width="5.2" stroke-linecap="round"/>
<line x1="368.62" y1="454.73" x2="368.25" y2="454.31" stroke="#474747" stroke-width="5.2" stroke-linecap="round"/>
<line x1="380.09" y1="450.07" x2="380.18" y2="451.94" stroke="#474747" stroke-width="5.2" stroke-linecap="round"/>
<line x1="380.18" y1="451.94" x2="379.38" y2="454.2" stroke="#474747" stroke-width="5.2" stroke-linecap="round"/>
<line x1="379.38" y1="454.2" x2="377.91" y2="456.47" stroke="#474747" stroke-width="5.2" stroke-linecap="round"/>
<line x1="377.91" y1="456.47" x2="376.13" y2="458.39" stroke="#474747" stroke-width="5.2" stroke-linecap="round"/>
<line x1="376.13" y1="458.39" x2="374.46" y2="459.64" stroke="#474747" stroke-width="5.2" stroke-linecap="round"/>
<line x1="374.46" y1="459.64" x2="373.28" y2="460.06" stroke="#474747" stroke-width="5.2" stroke-linecap="round"/>
<line x1="373.28" y1="460.06" x2="372.91" y2="459.64" stroke="#474747" stroke-width="5.2" stroke-linecap="round"/>
<line x1="384.75" y1="455.41" x2="384.85" y2="457.28" stroke="#474747" stroke-width="5.2" stroke-linecap="round"/>
<line x1="384.85" y1="457.28" x2="384.05" y2="459.53" stroke="#474747" stroke-width="5.2" stroke-linecap="round"/>
<line x1="384.05" y1="459.53" x2="382.58" y2="461.81" stroke="#474747" stroke-width="5.2" stroke-linecap="round"/>
<line x1="369.44" y1="446.78" x2="367.65" y2="448.7" stroke="#8a8a8a" stroke-width="1" stroke-linecap="round"/>
<line x1="367.65" y1="448.7" x2="365.98" y2="449.96" stroke="#8a8a8a" stroke-width="1" stroke-linecap="round"/>
<line x1="365.98" y1="449.96" x2="364.81" y2="450.38" stroke="#8a8a8a" stroke-width="1" stroke-linecap="round"/>
<line x1="376.28" y1="445.72" x2="376.37" y2="447.59" stroke="#8a8a8a" stroke-width="1" stroke-linecap="round"/>
<line x1="376.37" y1="447.59" x2="375.57" y2="449.84" stroke="#8a8a8a" stroke-width="1" stroke-linecap="round"/>
<line x1="375.57" y1="449.84" x2="374.1" y2="452.12" stroke="#8a8a8a" stroke-width="1" stroke-linecap="round"/>
<line x1="374.1" y1="452.12" x2="372.32" y2="454.03" stroke="#8a8a8a" stroke-width="1" stroke-linecap="round"/>
<line x1="372.32" y1="454.03" x2="370.64" y2="455.29" stroke="#8a8a8a" stroke-width="1" stroke-linecap="round"/>
<line x1="370.64" y1="455.29" x2="369.47" y2="455.71" stroke="#8a8a8a" stroke-width="1" stroke-linecap="round"/>
<line x1="380.94" y1="451.05" x2="381.04" y2="452.92" stroke="#8a8a8a" stroke-width="1" stroke-linecap="round"/>
<line x1="381.04" y1="452.92" x2="380.24" y2="455.18" stroke="#8a8a8a" stroke-width="1" stroke-linecap="round"/>
<line x1="380.24" y1="455.18" x2="378.77" y2="457.45" stroke="#8a8a8a" stroke-width="1" stroke-linecap="round"/>
<line x1="378.77" y1="457.45" x2="376.99" y2="459.37" stroke="#8a8a8a" stroke-width="1" stroke-linecap="round"/>
<line x1="376.99" y1="459.37" x2="375.31" y2="460.62" stroke="#8a8a8a" stroke-width="1" stroke-linecap="round"/>
<line x1="375.31" y1="460.62" x2="374.14" y2="461.04" stroke="#8a8a8a" stroke-width="1" stroke-linecap="round"/>
<line x1="385.61" y1="456.39" x2="385.71" y2="458.25" stroke="#8a8a8a" stroke-width="1" stroke-linecap="round"/>
<line x1="385.71" y1="458.25" x2="384.91" y2="460.51" stroke="#8a8a8a" stroke-width="1" stroke-linecap="round"/>
<line x1="384.91" y1="460.51" x2="383.44" y2="462.78" stroke="#8a8a8a" stroke-width="1" stroke-linecap="round"/>
<line x1="430.11" y1="405.32" x2="430.65" y2="404.43" stroke="#404040" stroke-width="4.4" stroke-linecap="round"/>
<line x1="430.65" y1="404.43" x2="432" y2="403.32" stroke="#404040" stroke-width="4.4" stroke-linecap="round"/>
<line x1="432" y1="403.32" x2="433.96" y2="402.33" stroke="#404040" stroke-width="4.4" stroke-linecap="round"/>
<line x1="433.96" y1="402.33" x2="436.21" y2="401.74" stroke="#404040" stroke-width="4.4" stroke-linecap="round"/>
<line x1="436.21" y1="401.74" x2="438.38" y2="401.76" stroke="#404040" stroke-width="4.4" stroke-linecap="round"/>
<line x1="438.38" y1="401.76" x2="440.09" y2="402.49" stroke="#404040" stroke-width="4.4" stroke-linecap="round"/>
<line x1="440.09" y1="402.49" x2="441.09" y2="403.87" stroke="#404040" stroke-width="4.4" stroke-linecap="round"/>
<line x1="434.97" y1="412.04" x2="435.51" y2="411.14" stroke="#404040" stroke-width="4.4" stroke-linecap="round"/>
<line x1="435.51" y1="411.14" x2="436.86" y2="410.04" stroke="#404040" stroke-width="4.4" stroke-linecap="round"/>
<line x1="436.86" y1="410.04" x2="438.82" y2="409.05" stroke="#404040" stroke-width="4.4" stroke-linecap="round"/>
<line x1="438.82" y1="409.05" x2="441.07" y2="408.45" stroke="#404040" stroke-width="4.4" stroke-linecap="round"/>
<line x1="441.07" y1="408.45" x2="443.23" y2="408.48" stroke="#404040" stroke-width="4.4" stroke-linecap="round"/>
<line x1="443.23" y1="408.48" x2="444.95" y2="409.2" stroke="#404040" stroke-width="4.4" stroke-linecap="round"/>
<line x1="444.95" y1="409.2" x2="445.95" y2="410.58" stroke="#404040" stroke-width="4.4" stroke-linecap="round"/>
<line x1="439.83" y1="418.75" x2="440.37" y2="417.85" stroke="#404040" stroke-width="4.4" stroke-linecap="round"/>
<line x1="440.37" y1="417.85" x2="441.72" y2="416.75" stroke="#404040" stroke-width="4.4" stroke-linecap="round"/>
<line x1="441.72" y1="416.75" x2="443.68" y2="415.76" stroke="#404040" stroke-width="4.4" stroke-linecap="round"/>
<line x1="443.68" y1="415.76" x2="445.93" y2="415.17" stroke="#404040" stroke-width="4.4" stroke-linecap="round"/>
<line x1="445.93" y1="415.17" x2="448.09" y2="415.19" stroke="#404040" stroke-width="4.4" stroke-linecap="round"/>
<line x1="448.09" y1="415.19" x2="449.81" y2="415.92" stroke="#404040" stroke-width="4.4" stroke-linecap="round"/>
<line x1="449.81" y1="415.92" x2="450.81" y2="417.3" stroke="#404040" stroke-width="4.4" stroke-linecap="round"/>
<line x1="444.68" y1="425.47" x2="445.23" y2="424.57" stroke="#404040" stroke-width="4.4" stroke-linecap="round"/>
<line x1="445.23" y1="424.57" x2="446.58" y2="423.47" stroke="#404040" stroke-width="4.4" stroke-linecap="round"/>
<line x1="446.58" y1="423.47" x2="448.53" y2="422.47" stroke="#404040" stroke-width="4.4" stroke-linecap="round"/>
<line x1="448.53" y1="422.47" x2="450.78" y2="421.88" stroke="#404040" stroke-width="4.4" stroke-linecap="round"/>
<line x1="450.78" y1="421.88" x2="452.95" y2="421.91" stroke="#404040" stroke-width="4.4" stroke-linecap="round"/>
<line x1="452.95" y1="421.91" x2="454.66" y2="422.63" stroke="#404040" stroke-width="4.4" stroke-linecap="round"/>
<line x1="449.54" y1="432.18" x2="450.08" y2="431.28" stroke="#404040" stroke-width="4.4" stroke-linecap="round"/>
<line x1="450.08" y1="431.28" x2="451.43" y2="430.18" stroke="#404040" stroke-width="4.4" stroke-linecap="round"/>
<line x1="451.43" y1="430.18" x2="453.39" y2="429.19" stroke="#404040" stroke-width="4.4" stroke-linecap="round"/>
<line x1="453.39" y1="429.19" x2="455.64" y2="428.6" stroke="#404040" stroke-width="4.4" stroke-linecap="round"/>
<line x1="455.64" y1="428.6" x2="457.8" y2="428.62" stroke="#404040" stroke-width="4.4" stroke-linecap="round"/>
<line x1="457.8" y1="428.62" x2="459.52" y2="429.35" stroke="#404040" stroke-width="4.4" stroke-linecap="round"/>
<line x1="459.52" y1="429.35" x2="460.52" y2="430.73" stroke="#404040" stroke-width="4.4" stroke-linecap="round"/>
<line x1="454.7" y1="439.32" x2="454.4" y2="438.9" stroke="#404040" stroke-width="4.4" stroke-linecap="round"/>
<line x1="454.4" y1="438.9" x2="454.94" y2="438" stroke="#404040" stroke-width="4.4" stroke-linecap="round"/>
<line x1="454.94" y1="438" x2="456.29" y2="436.9" stroke="#404040" stroke-width="4.4" stroke-linecap="round"/>
<line x1="456.29" y1="436.9" x2="458.25" y2="435.9" stroke="#404040" stroke-width="4.4" stroke-linecap="round"/>
<line x1="458.25" y1="435.9" x2="460.5" y2="435.31" stroke="#404040" stroke-width="4.4" stroke-linecap="round"/>
<line x1="460.5" y1="435.31" x2="462.66" y2="435.33" stroke="#404040" stroke-width="4.4" stroke-linecap="round"/>
<line x1="462.66" y1="435.33" x2="464.38" y2="436.06" stroke="#404040" stroke-width="4.4" stroke-linecap="round"/>
<line x1="459.26" y1="445.61" x2="459.8" y2="444.71" stroke="#404040" stroke-width="4.4" stroke-linecap="round"/>
<line x1="459.8" y1="444.71" x2="461.15" y2="443.61" stroke="#404040" stroke-width="4.4" stroke-linecap="round"/>
<line x1="461.15" y1="443.61" x2="463.11" y2="442.62" stroke="#404040" stroke-width="4.4" stroke-linecap="round"/>
<line x1="463.11" y1="442.62" x2="465.36" y2="442.03" stroke="#404040" stroke-width="4.4" stroke-linecap="round"/>
<line x1="465.36" y1="442.03" x2="467.52" y2="442.05" stroke="#404040" stroke-width="4.4" stroke-linecap="round"/>
<line x1="467.52" y1="442.05" x2="469.24" y2="442.77" stroke="#404040" stroke-width="4.4" stroke-linecap="round"/>
<line x1="469.24" y1="442.77" x2="470.23" y2="444.15" stroke="#404040" stroke-width="4.4" stroke-linecap="round"/>
<line x1="434.47" y1="403.03" x2="432.91" y2="404.58" stroke="#6c6c6c" stroke-width="4.4" stroke-linecap="round"/>
<line x1="432.91" y1="404.58" x2="431.44" y2="405.51" stroke="#6c6c6c" stroke-width="4.4" stroke-linecap="round"/>
<line x1="431.44" y1="405.51" x2="430.42" y2="405.75" stroke="#6c6c6c" stroke-width="4.4" stroke-linecap="round"/>
<line x1="430.42" y1="405.75" x2="430.11" y2="405.32" stroke="#6c6c6c" stroke-width="4.4" stroke-linecap="round"/>
<line x1="441.09" y1="403.87" x2="441.24" y2="405.73" stroke="#6c6c6c" stroke-width="4.4" stroke-linecap="round"/>
<line x1="441.24" y1="405.73" x2="440.59" y2="407.79" stroke="#6c6c6c" stroke-width="4.4" stroke-linecap="round"/>
<line x1="440.59" y1="407.79" x2="439.32" y2="409.74" stroke="#6c6c6c" stroke-width="4.4" stroke-linecap="round"/>
<line x1="439.32" y1="409.74" x2="437.77" y2="411.29" stroke="#6c6c6c" stroke-width="4.4" stroke-linecap="round"/>
<line x1="437.77" y1="411.29" x2="436.3" y2="412.23" stroke="#6c6c6c" stroke-width="4.4" stroke-linecap="round"/>
<line x1="436.3" y1="412.23" x2="435.27" y2="412.46" stroke="#6c6c6c" stroke-width="4.4" stroke-linecap="round"/>
<line x1="435.27" y1="412.46" x2="434.97" y2="412.04" stroke="#6c6c6c" stroke-width="4.4" stroke-linecap="round"/>
<line x1="445.95" y1="410.58" x2="446.1" y2="412.44" stroke="#6c6c6c" stroke-width="4.4" stroke-linecap="round"/>
<line x1="446.1" y1="412.44" x2="445.45" y2="414.5" stroke="#6c6c6c" stroke-width="4.4" stroke-linecap="round"/>
<line x1="445.45" y1="414.5" x2="444.18" y2="416.45" stroke="#6c6c6c" stroke-width="4.4" stroke-linecap="round"/>
<line x1="444.18" y1="416.45" x2="442.62" y2="418" stroke="#6c6c6c" stroke-width="4.4" stroke-linecap="round"/>
<line x1="442.62" y1="418" x2="441.15" y2="418.94" stroke="#6c6c6c" stroke-width="4.4" stroke-linecap="round"/>
<line x1="441.15" y1="418.94" x2="440.13" y2="419.18" stroke="#6c6c6c" stroke-width="4.4" stroke-linecap="round"/>
<line x1="440.13" y1="419.18" x2="439.83" y2="418.75" stroke="#6c6c6c" stroke-width="4.4" stroke-linecap="round"/>
<line x1="450.81" y1="417.3" x2="450.96" y2="419.16" stroke="#6c6c6c" stroke-width="4.4" stroke-linecap="round"/>
<line x1="450.96" y1="419.16" x2="450.3" y2="421.22" stroke="#6c6c6c" stroke-width="4.4" stroke-linecap="round"/>
<line x1="450.3" y1="421.22" x2="449.04" y2="423.17" stroke="#6c6c6c" stroke-width="4.4" stroke-linecap="round"/>
<line x1="449.04" y1="423.17" x2="447.48" y2="424.72" stroke="#6c6c6c" stroke-width="4.4" stroke-linecap="round"/>
<line x1="447.48" y1="424.72" x2="446.01" y2="425.66" stroke="#6c6c6c" stroke-width="4.4" stroke-linecap="round"/>
<line x1="446.01" y1="425.66" x2="444.99" y2="425.89" stroke="#6c6c6c" stroke-width="4.4" stroke-linecap="round"/>
<line x1="444.99" y1="425.89" x2="444.68" y2="425.47" stroke="#6c6c6c" stroke-width="4.4" stroke-linecap="round"/>
<line x1="454.66" y1="422.63" x2="455.66" y2="424.01" stroke="#6c6c6c" stroke-width="4.4" stroke-linecap="round"/>
<line x1="455.66" y1="424.01" x2="455.82" y2="425.87" stroke="#6c6c6c" stroke-width="4.4" stroke-linecap="round"/>
<line x1="455.82" y1="425.87" x2="455.16" y2="427.93" stroke="#6c6c6c" stroke-width="4.4" stroke-linecap="round"/>
<line x1="455.16" y1="427.93" x2="453.89" y2="429.88" stroke="#6c6c6c" stroke-width="4.4" stroke-linecap="round"/>
<line x1="453.89" y1="429.88" x2="452.34" y2="431.43" stroke="#6c6c6c" stroke-width="4.4" stroke-linecap="round"/>
<line x1="452.34" y1="431.43" x2="450.87" y2="432.37" stroke="#6c6c6c" stroke-width="4.4" stroke-linecap="round"/>
<line x1="450.87" y1="432.37" x2="449.85" y2="432.6" stroke="#6c6c6c" stroke-width="4.4" stroke-linecap="round"/>
<line x1="449.85" y1="432.6" x2="449.54" y2="432.18" stroke="#6c6c6c" stroke-width="4.4" stroke-linecap="round"/>
<line x1="460.52" y1="430.73" x2="460.67" y2="432.58" stroke="#6c6c6c" stroke-width="4.4" stroke-linecap="round"/>
<line x1="460.67" y1="432.58" x2="460.02" y2="434.65" stroke="#6c6c6c" stroke-width="4.4" stroke-linecap="round"/>
<line x1="460.02" y1="434.65" x2="458.75" y2="436.6" stroke="#6c6c6c" stroke-width="4.4" stroke-linecap="round"/>
<line x1="458.75" y1="436.6" x2="457.2" y2="438.15" stroke="#6c6c6c" stroke-width="4.4" stroke-linecap="round"/>
<line x1="457.2" y1="438.15" x2="455.73" y2="439.08" stroke="#6c6c6c" stroke-width="4.4" stroke-linecap="round"/>
<line x1="455.73" y1="439.08" x2="454.7" y2="439.32" stroke="#6c6c6c" stroke-width="4.4" stroke-linecap="round"/>
<line x1="464.38" y1="436.06" x2="465.38" y2="437.44" stroke="#6c6c6c" stroke-width="4.4" stroke-linecap="round"/>
<line x1="465.38" y1="437.44" x2="465.53" y2="439.3" stroke="#6c6c6c" stroke-width="4.4" stroke-linecap="round"/>
<line x1="465.53" y1="439.3" x2="464.87" y2="441.36" stroke="#6c6c6c" stroke-width="4.4" stroke-linecap="round"/>
<line x1="464.87" y1="441.36" x2="463.61" y2="443.31" stroke="#6c6c6c" stroke-width="4.4" stroke-linecap="round"/>
<line x1="463.61" y1="443.31" x2="462.05" y2="444.86" stroke="#6c6c6c" stroke-width="4.4" stroke-linecap="round"/>
<line x1="462.05" y1="444.86" x2="460.58" y2="445.8" stroke="#6c6c6c" stroke-width="4.4" stroke-linecap="round"/>
<line x1="460.58" y1="445.8" x2="459.56" y2="446.03" stroke="#6c6c6c" stroke-width="4.4" stroke-linecap="round"/>
<line x1="459.56" y1="446.03" x2="459.26" y2="445.61" stroke="#6c6c6c" stroke-width="4.4" stroke-linecap="round"/>
<line x1="470.23" y1="444.15" x2="470.39" y2="446.01" stroke="#6c6c6c" stroke-width="4.4" stroke-linecap="round"/>
<line x1="470.39" y1="446.01" x2="469.73" y2="448.07" stroke="#6c6c6c" stroke-width="4.4" stroke-linecap="round"/>
<line x1="469.73" y1="448.07" x2="468.47" y2="450.03" stroke="#6c6c6c" stroke-width="4.4" stroke-linecap="round"/>
<line x1="435.11" y1="403.92" x2="433.55" y2="405.47" stroke="#d4d4d4" stroke-width="1.6" stroke-linecap="round"/>
<line x1="433.55" y1="405.47" x2="432.08" y2="406.4" stroke="#d4d4d4" stroke-width="1.6" stroke-linecap="round"/>
<line x1="432.08" y1="406.4" x2="431.06" y2="406.64" stroke="#d4d4d4" stroke-width="1.6" stroke-linecap="round"/>
<line x1="441.74" y1="404.76" x2="441.89" y2="406.62" stroke="#d4d4d4" stroke-width="1.6" stroke-linecap="round"/>
<line x1="441.89" y1="406.62" x2="441.23" y2="408.68" stroke="#d4d4d4" stroke-width="1.6" stroke-linecap="round"/>
<line x1="441.23" y1="408.68" x2="439.97" y2="410.63" stroke="#d4d4d4" stroke-width="1.6" stroke-linecap="round"/>
<line x1="439.97" y1="410.63" x2="438.41" y2="412.18" stroke="#d4d4d4" stroke-width="1.6" stroke-linecap="round"/>
<line x1="438.41" y1="412.18" x2="436.94" y2="413.12" stroke="#d4d4d4" stroke-width="1.6" stroke-linecap="round"/>
<line x1="436.94" y1="413.12" x2="435.92" y2="413.35" stroke="#d4d4d4" stroke-width="1.6" stroke-linecap="round"/>
<line x1="446.59" y1="411.47" x2="446.75" y2="413.33" stroke="#d4d4d4" stroke-width="1.6" stroke-linecap="round"/>
<line x1="446.75" y1="413.33" x2="446.09" y2="415.39" stroke="#d4d4d4" stroke-width="1.6" stroke-linecap="round"/>
<line x1="446.09" y1="415.39" x2="444.82" y2="417.35" stroke="#d4d4d4" stroke-width="1.6" stroke-linecap="round"/>
<line x1="444.82" y1="417.35" x2="443.27" y2="418.9" stroke="#d4d4d4" stroke-width="1.6" stroke-linecap="round"/>
<line x1="443.27" y1="418.9" x2="441.8" y2="419.83" stroke="#d4d4d4" stroke-width="1.6" stroke-linecap="round"/>
<line x1="441.8" y1="419.83" x2="440.78" y2="420.07" stroke="#d4d4d4" stroke-width="1.6" stroke-linecap="round"/>
<line x1="451.45" y1="418.19" x2="451.6" y2="420.05" stroke="#d4d4d4" stroke-width="1.6" stroke-linecap="round"/>
<line x1="451.6" y1="420.05" x2="450.95" y2="422.11" stroke="#d4d4d4" stroke-width="1.6" stroke-linecap="round"/>
<line x1="450.95" y1="422.11" x2="449.68" y2="424.06" stroke="#d4d4d4" stroke-width="1.6" stroke-linecap="round"/>
<line x1="449.68" y1="424.06" x2="448.13" y2="425.61" stroke="#d4d4d4" stroke-width="1.6" stroke-linecap="round"/>
<line x1="448.13" y1="425.61" x2="446.66" y2="426.55" stroke="#d4d4d4" stroke-width="1.6" stroke-linecap="round"/>
<line x1="446.66" y1="426.55" x2="445.63" y2="426.78" stroke="#d4d4d4" stroke-width="1.6" stroke-linecap="round"/>
<line x1="456.31" y1="424.9" x2="456.46" y2="426.76" stroke="#d4d4d4" stroke-width="1.6" stroke-linecap="round"/>
<line x1="456.46" y1="426.76" x2="455.8" y2="428.82" stroke="#d4d4d4" stroke-width="1.6" stroke-linecap="round"/>
<line x1="455.8" y1="428.82" x2="454.54" y2="430.77" stroke="#d4d4d4" stroke-width="1.6" stroke-linecap="round"/>
<line x1="454.54" y1="430.77" x2="452.98" y2="432.32" stroke="#d4d4d4" stroke-width="1.6" stroke-linecap="round"/>
<line x1="452.98" y1="432.32" x2="451.51" y2="433.26" stroke="#d4d4d4" stroke-width="1.6" stroke-linecap="round"/>
<line x1="451.51" y1="433.26" x2="450.49" y2="433.5" stroke="#d4d4d4" stroke-width="1.6" stroke-linecap="round"/>
<line x1="461.17" y1="431.62" x2="461.32" y2="433.48" stroke="#d4d4d4" stroke-width="1.6" stroke-linecap="round"/>
<line x1="461.32" y1="433.48" x2="460.66" y2="435.54" stroke="#d4d4d4" stroke-width="1.6" stroke-linecap="round"/>
<line x1="460.66" y1="435.54" x2="459.4" y2="437.49" stroke="#d4d4d4" stroke-width="1.6" stroke-linecap="round"/>
<line x1="459.4" y1="437.49" x2="457.84" y2="439.04" stroke="#d4d4d4" stroke-width="1.6" stroke-linecap="round"/>
<line x1="457.84" y1="439.04" x2="456.37" y2="439.98" stroke="#d4d4d4" stroke-width="1.6" stroke-linecap="round"/>
<line x1="456.37" y1="439.98" x2="455.35" y2="440.21" stroke="#d4d4d4" stroke-width="1.6" stroke-linecap="round"/>
<line x1="466.02" y1="438.33" x2="466.17" y2="440.19" stroke="#d4d4d4" stroke-width="1.6" stroke-linecap="round"/>
<line x1="466.17" y1="440.19" x2="465.52" y2="442.25" stroke="#d4d4d4" stroke-width="1.6" stroke-linecap="round"/>
<line x1="465.52" y1="442.25" x2="464.25" y2="444.2" stroke="#d4d4d4" stroke-width="1.6" stroke-linecap="round"/>
<line x1="464.25" y1="444.2" x2="462.7" y2="445.75" stroke="#d4d4d4" stroke-width="1.6" stroke-linecap="round"/>
<line x1="462.7" y1="445.75" x2="461.23" y2="446.69" stroke="#d4d4d4" stroke-width="1.6" stroke-linecap="round"/>
<line x1="461.23" y1="446.69" x2="460.2" y2="446.92" stroke="#d4d4d4" stroke-width="1.6" stroke-linecap="round"/>
<line x1="470.88" y1="445.05" x2="471.03" y2="446.9" stroke="#d4d4d4" stroke-width="1.6" stroke-linecap="round"/>
<line x1="471.03" y1="446.9" x2="470.38" y2="448.97" stroke="#d4d4d4" stroke-width="1.6" stroke-linecap="round"/>
<line x1="470.38" y1="448.97" x2="469.11" y2="450.92" stroke="#d4d4d4" stroke-width="1.6" stroke-linecap="round"/>
<ellipse cx="410.5" cy="415" rx="4.2" ry="7.5" transform="rotate(30 410.5 415)" fill="#474747"/>
<ellipse cx="419.5" cy="425" rx="4.2" ry="7.5" transform="rotate(30 419.5 425)" fill="#474747"/>
<ellipse cx="428.5" cy="432" rx="4" ry="7" transform="rotate(30 428.5 432)" fill="#474747"/>
<ellipse cx="434.5" cy="438.5" rx="3.5" ry="6" transform="rotate(30 434.5 438.5)" fill="#474747"/>
<ellipse cx="405" cy="403" rx="4.5" ry="6" transform="rotate(40 405 403)" fill="#474747"/>
<line x1="406.05" y1="402.95" x2="406.47" y2="401.62" stroke="#3c3c3c" stroke-width="5" stroke-linecap="round"/>
<line x1="406.47" y1="401.62" x2="407.88" y2="399.84" stroke="#3c3c3c" stroke-width="5" stroke-linecap="round"/>
<line x1="407.88" y1="399.84" x2="410.1" y2="398.06" stroke="#3c3c3c" stroke-width="5" stroke-linecap="round"/>
<line x1="410.1" y1="398.06" x2="412.78" y2="396.72" stroke="#3c3c3c" stroke-width="5" stroke-linecap="round"/>
<line x1="412.78" y1="396.72" x2="415.49" y2="396.19" stroke="#3c3c3c" stroke-width="5" stroke-linecap="round"/>
<line x1="415.49" y1="396.19" x2="417.79" y2="396.67" stroke="#3c3c3c" stroke-width="5" stroke-linecap="round"/>
<line x1="417.79" y1="396.67" x2="419.32" y2="398.14" stroke="#3c3c3c" stroke-width="5" stroke-linecap="round"/>
<line x1="412.92" y1="409.58" x2="413.34" y2="408.24" stroke="#3c3c3c" stroke-width="5" stroke-linecap="round"/>
<line x1="413.34" y1="408.24" x2="414.76" y2="406.46" stroke="#3c3c3c" stroke-width="5" stroke-linecap="round"/>
<line x1="414.76" y1="406.46" x2="416.97" y2="404.68" stroke="#3c3c3c" stroke-width="5" stroke-linecap="round"/>
<line x1="416.97" y1="404.68" x2="419.65" y2="403.35" stroke="#3c3c3c" stroke-width="5" stroke-linecap="round"/>
<line x1="419.65" y1="403.35" x2="422.36" y2="402.82" stroke="#3c3c3c" stroke-width="5" stroke-linecap="round"/>
<line x1="422.36" y1="402.82" x2="424.66" y2="403.29" stroke="#3c3c3c" stroke-width="5" stroke-linecap="round"/>
<line x1="424.66" y1="403.29" x2="426.19" y2="404.77" stroke="#3c3c3c" stroke-width="5" stroke-linecap="round"/>
<line x1="419.8" y1="416.2" x2="420.22" y2="414.87" stroke="#3c3c3c" stroke-width="5" stroke-linecap="round"/>
<line x1="420.22" y1="414.87" x2="421.63" y2="413.09" stroke="#3c3c3c" stroke-width="5" stroke-linecap="round"/>
<line x1="421.63" y1="413.09" x2="423.85" y2="411.31" stroke="#3c3c3c" stroke-width="5" stroke-linecap="round"/>
<line x1="423.85" y1="411.31" x2="426.53" y2="409.97" stroke="#3c3c3c" stroke-width="5" stroke-linecap="round"/>
<line x1="426.53" y1="409.97" x2="429.24" y2="409.44" stroke="#3c3c3c" stroke-width="5" stroke-linecap="round"/>
<line x1="429.24" y1="409.44" x2="431.54" y2="409.92" stroke="#3c3c3c" stroke-width="5" stroke-linecap="round"/>
<line x1="431.54" y1="409.92" x2="433.07" y2="411.39" stroke="#3c3c3c" stroke-width="5" stroke-linecap="round"/>
<line x1="426.67" y1="422.83" x2="427.09" y2="421.49" stroke="#3c3c3c" stroke-width="5" stroke-linecap="round"/>
<line x1="427.09" y1="421.49" x2="428.51" y2="419.71" stroke="#3c3c3c" stroke-width="5" stroke-linecap="round"/>
<line x1="428.51" y1="419.71" x2="430.72" y2="417.93" stroke="#3c3c3c" stroke-width="5" stroke-linecap="round"/>
<line x1="430.72" y1="417.93" x2="433.4" y2="416.6" stroke="#3c3c3c" stroke-width="5" stroke-linecap="round"/>
<line x1="433.4" y1="416.6" x2="436.11" y2="416.07" stroke="#3c3c3c" stroke-width="5" stroke-linecap="round"/>
<line x1="436.11" y1="416.07" x2="438.41" y2="416.54" stroke="#3c3c3c" stroke-width="5" stroke-linecap="round"/>
<line x1="438.41" y1="416.54" x2="439.94" y2="418.02" stroke="#3c3c3c" stroke-width="5" stroke-linecap="round"/>
<line x1="433.55" y1="429.45" x2="433.97" y2="428.12" stroke="#3c3c3c" stroke-width="5" stroke-linecap="round"/>
<line x1="433.97" y1="428.12" x2="435.38" y2="426.34" stroke="#3c3c3c" stroke-width="5" stroke-linecap="round"/>
<line x1="435.38" y1="426.34" x2="437.6" y2="424.56" stroke="#3c3c3c" stroke-width="5" stroke-linecap="round"/>
<line x1="437.6" y1="424.56" x2="440.28" y2="423.22" stroke="#3c3c3c" stroke-width="5" stroke-linecap="round"/>
<line x1="440.28" y1="423.22" x2="442.99" y2="422.69" stroke="#3c3c3c" stroke-width="5" stroke-linecap="round"/>
<line x1="442.99" y1="422.69" x2="445.29" y2="423.17" stroke="#3c3c3c" stroke-width="5" stroke-linecap="round"/>
<line x1="445.29" y1="423.17" x2="446.82" y2="424.64" stroke="#3c3c3c" stroke-width="5" stroke-linecap="round"/>
<line x1="440.97" y1="436.61" x2="440.42" y2="436.08" stroke="#3c3c3c" stroke-width="5" stroke-linecap="round"/>
<line x1="440.42" y1="436.08" x2="440.84" y2="434.74" stroke="#3c3c3c" stroke-width="5" stroke-linecap="round"/>
<line x1="440.84" y1="434.74" x2="442.26" y2="432.96" stroke="#3c3c3c" stroke-width="5" stroke-linecap="round"/>
<line x1="442.26" y1="432.96" x2="444.47" y2="431.18" stroke="#3c3c3c" stroke-width="5" stroke-linecap="round"/>
<line x1="444.47" y1="431.18" x2="447.15" y2="429.85" stroke="#3c3c3c" stroke-width="5" stroke-linecap="round"/>
<line x1="447.15" y1="429.85" x2="449.86" y2="429.32" stroke="#3c3c3c" stroke-width="5" stroke-linecap="round"/>
<line x1="449.86" y1="429.32" x2="452.16" y2="429.79" stroke="#3c3c3c" stroke-width="5" stroke-linecap="round"/>
<line x1="452.16" y1="429.79" x2="453.69" y2="431.27" stroke="#3c3c3c" stroke-width="5" stroke-linecap="round"/>
<line x1="447.85" y1="443.23" x2="447.3" y2="442.7" stroke="#3c3c3c" stroke-width="5" stroke-linecap="round"/>
<line x1="447.3" y1="442.7" x2="447.72" y2="441.37" stroke="#3c3c3c" stroke-width="5" stroke-linecap="round"/>
<line x1="447.72" y1="441.37" x2="449.13" y2="439.59" stroke="#3c3c3c" stroke-width="5" stroke-linecap="round"/>
<line x1="449.13" y1="439.59" x2="451.35" y2="437.81" stroke="#3c3c3c" stroke-width="5" stroke-linecap="round"/>
<line x1="451.35" y1="437.81" x2="454.03" y2="436.47" stroke="#3c3c3c" stroke-width="5" stroke-linecap="round"/>
<line x1="454.03" y1="436.47" x2="456.74" y2="435.94" stroke="#3c3c3c" stroke-width="5" stroke-linecap="round"/>
<line x1="456.74" y1="435.94" x2="459.04" y2="436.42" stroke="#3c3c3c" stroke-width="5" stroke-linecap="round"/>
<line x1="459.04" y1="436.42" x2="460.57" y2="437.89" stroke="#3c3c3c" stroke-width="5" stroke-linecap="round"/>
<line x1="454.17" y1="449.33" x2="454.59" y2="447.99" stroke="#3c3c3c" stroke-width="5" stroke-linecap="round"/>
<line x1="454.59" y1="447.99" x2="456.01" y2="446.21" stroke="#3c3c3c" stroke-width="5" stroke-linecap="round"/>
<line x1="456.01" y1="446.21" x2="458.22" y2="444.43" stroke="#3c3c3c" stroke-width="5" stroke-linecap="round"/>
<line x1="458.22" y1="444.43" x2="460.9" y2="443.1" stroke="#3c3c3c" stroke-width="5" stroke-linecap="round"/>
<line x1="460.9" y1="443.1" x2="463.61" y2="442.57" stroke="#3c3c3c" stroke-width="5" stroke-linecap="round"/>
<line x1="463.61" y1="442.57" x2="465.91" y2="443.04" stroke="#3c3c3c" stroke-width="5" stroke-linecap="round"/>
<line x1="465.91" y1="443.04" x2="467.44" y2="444.52" stroke="#3c3c3c" stroke-width="5" stroke-linecap="round"/>
<line x1="411.34" y1="399.26" x2="409.64" y2="401.54" stroke="#6e6e6e" stroke-width="5" stroke-linecap="round"/>
<line x1="409.64" y1="401.54" x2="407.91" y2="403.01" stroke="#6e6e6e" stroke-width="5" stroke-linecap="round"/>
<line x1="407.91" y1="403.01" x2="406.6" y2="403.48" stroke="#6e6e6e" stroke-width="5" stroke-linecap="round"/>
<line x1="406.6" y1="403.48" x2="406.05" y2="402.95" stroke="#6e6e6e" stroke-width="5" stroke-linecap="round"/>
<line x1="419.32" y1="398.14" x2="419.88" y2="400.43" stroke="#6e6e6e" stroke-width="5" stroke-linecap="round"/>
<line x1="419.88" y1="400.43" x2="419.45" y2="403.15" stroke="#6e6e6e" stroke-width="5" stroke-linecap="round"/>
<line x1="419.45" y1="403.15" x2="418.22" y2="405.88" stroke="#6e6e6e" stroke-width="5" stroke-linecap="round"/>
<line x1="418.22" y1="405.88" x2="416.52" y2="408.16" stroke="#6e6e6e" stroke-width="5" stroke-linecap="round"/>
<line x1="416.52" y1="408.16" x2="414.79" y2="409.64" stroke="#6e6e6e" stroke-width="5" stroke-linecap="round"/>
<line x1="414.79" y1="409.64" x2="413.47" y2="410.11" stroke="#6e6e6e" stroke-width="5" stroke-linecap="round"/>
<line x1="413.47" y1="410.11" x2="412.92" y2="409.58" stroke="#6e6e6e" stroke-width="5" stroke-linecap="round"/>
<line x1="426.19" y1="404.77" x2="426.75" y2="407.05" stroke="#6e6e6e" stroke-width="5" stroke-linecap="round"/>
<line x1="426.75" y1="407.05" x2="426.32" y2="409.78" stroke="#6e6e6e" stroke-width="5" stroke-linecap="round"/>
<line x1="426.32" y1="409.78" x2="425.09" y2="412.51" stroke="#6e6e6e" stroke-width="5" stroke-linecap="round"/>
<line x1="425.09" y1="412.51" x2="423.39" y2="414.79" stroke="#6e6e6e" stroke-width="5" stroke-linecap="round"/>
<line x1="423.39" y1="414.79" x2="421.66" y2="416.26" stroke="#6e6e6e" stroke-width="5" stroke-linecap="round"/>
<line x1="421.66" y1="416.26" x2="420.35" y2="416.73" stroke="#6e6e6e" stroke-width="5" stroke-linecap="round"/>
<line x1="420.35" y1="416.73" x2="419.8" y2="416.2" stroke="#6e6e6e" stroke-width="5" stroke-linecap="round"/>
<line x1="433.07" y1="411.39" x2="433.63" y2="413.68" stroke="#6e6e6e" stroke-width="5" stroke-linecap="round"/>
<line x1="433.63" y1="413.68" x2="433.2" y2="416.4" stroke="#6e6e6e" stroke-width="5" stroke-linecap="round"/>
<line x1="433.2" y1="416.4" x2="431.97" y2="419.13" stroke="#6e6e6e" stroke-width="5" stroke-linecap="round"/>
<line x1="431.97" y1="419.13" x2="430.27" y2="421.41" stroke="#6e6e6e" stroke-width="5" stroke-linecap="round"/>
<line x1="430.27" y1="421.41" x2="428.54" y2="422.89" stroke="#6e6e6e" stroke-width="5" stroke-linecap="round"/>
<line x1="428.54" y1="422.89" x2="427.22" y2="423.36" stroke="#6e6e6e" stroke-width="5" stroke-linecap="round"/>
<line x1="427.22" y1="423.36" x2="426.67" y2="422.83" stroke="#6e6e6e" stroke-width="5" stroke-linecap="round"/>
<line x1="439.94" y1="418.02" x2="440.5" y2="420.3" stroke="#6e6e6e" stroke-width="5" stroke-linecap="round"/>
<line x1="440.5" y1="420.3" x2="440.07" y2="423.03" stroke="#6e6e6e" stroke-width="5" stroke-linecap="round"/>
<line x1="440.07" y1="423.03" x2="438.84" y2="425.76" stroke="#6e6e6e" stroke-width="5" stroke-linecap="round"/>
<line x1="438.84" y1="425.76" x2="437.14" y2="428.04" stroke="#6e6e6e" stroke-width="5" stroke-linecap="round"/>
<line x1="437.14" y1="428.04" x2="435.41" y2="429.51" stroke="#6e6e6e" stroke-width="5" stroke-linecap="round"/>
<line x1="435.41" y1="429.51" x2="434.1" y2="429.98" stroke="#6e6e6e" stroke-width="5" stroke-linecap="round"/>
<line x1="434.1" y1="429.98" x2="433.55" y2="429.45" stroke="#6e6e6e" stroke-width="5" stroke-linecap="round"/>
<line x1="446.82" y1="424.64" x2="447.38" y2="426.93" stroke="#6e6e6e" stroke-width="5" stroke-linecap="round"/>
<line x1="447.38" y1="426.93" x2="446.95" y2="429.65" stroke="#6e6e6e" stroke-width="5" stroke-linecap="round"/>
<line x1="446.95" y1="429.65" x2="445.72" y2="432.38" stroke="#6e6e6e" stroke-width="5" stroke-linecap="round"/>
<line x1="445.72" y1="432.38" x2="444.02" y2="434.66" stroke="#6e6e6e" stroke-width="5" stroke-linecap="round"/>
<line x1="444.02" y1="434.66" x2="442.29" y2="436.14" stroke="#6e6e6e" stroke-width="5" stroke-linecap="round"/>
<line x1="442.29" y1="436.14" x2="440.97" y2="436.61" stroke="#6e6e6e" stroke-width="5" stroke-linecap="round"/>
<line x1="453.69" y1="431.27" x2="454.25" y2="433.55" stroke="#6e6e6e" stroke-width="5" stroke-linecap="round"/>
<line x1="454.25" y1="433.55" x2="453.82" y2="436.28" stroke="#6e6e6e" stroke-width="5" stroke-linecap="round"/>
<line x1="453.82" y1="436.28" x2="452.59" y2="439.01" stroke="#6e6e6e" stroke-width="5" stroke-linecap="round"/>
<line x1="452.59" y1="439.01" x2="450.89" y2="441.29" stroke="#6e6e6e" stroke-width="5" stroke-linecap="round"/>
<line x1="450.89" y1="441.29" x2="449.16" y2="442.76" stroke="#6e6e6e" stroke-width="5" stroke-linecap="round"/>
<line x1="449.16" y1="442.76" x2="447.85" y2="443.23" stroke="#6e6e6e" stroke-width="5" stroke-linecap="round"/>
<line x1="460.57" y1="437.89" x2="461.13" y2="440.18" stroke="#6e6e6e" stroke-width="5" stroke-linecap="round"/>
<line x1="461.13" y1="440.18" x2="460.7" y2="442.9" stroke="#6e6e6e" stroke-width="5" stroke-linecap="round"/>
<line x1="460.7" y1="442.9" x2="459.47" y2="445.63" stroke="#6e6e6e" stroke-width="5" stroke-linecap="round"/>
<line x1="459.47" y1="445.63" x2="457.77" y2="447.91" stroke="#6e6e6e" stroke-width="5" stroke-linecap="round"/>
<line x1="457.77" y1="447.91" x2="456.04" y2="449.39" stroke="#6e6e6e" stroke-width="5" stroke-linecap="round"/>
<line x1="456.04" y1="449.39" x2="454.72" y2="449.86" stroke="#6e6e6e" stroke-width="5" stroke-linecap="round"/>
<line x1="454.72" y1="449.86" x2="454.17" y2="449.33" stroke="#6e6e6e" stroke-width="5" stroke-linecap="round"/>
<line x1="467.44" y1="444.52" x2="468" y2="446.8" stroke="#6e6e6e" stroke-width="5" stroke-linecap="round"/>
<line x1="468" y1="446.8" x2="467.57" y2="449.53" stroke="#6e6e6e" stroke-width="5" stroke-linecap="round"/>
<line x1="467.57" y1="449.53" x2="466.34" y2="452.26" stroke="#6e6e6e" stroke-width="5" stroke-linecap="round"/>
<line x1="412.24" y1="400.12" x2="410.54" y2="402.4" stroke="#dcdcdc" stroke-width="2" stroke-linecap="round"/>
<line x1="410.54" y1="402.4" x2="408.82" y2="403.88" stroke="#dcdcdc" stroke-width="2" stroke-linecap="round"/>
<line x1="408.82" y1="403.88" x2="407.5" y2="404.35" stroke="#dcdcdc" stroke-width="2" stroke-linecap="round"/>
<line x1="420.22" y1="399.01" x2="420.78" y2="401.29" stroke="#dcdcdc" stroke-width="2" stroke-linecap="round"/>
<line x1="420.78" y1="401.29" x2="420.35" y2="404.02" stroke="#dcdcdc" stroke-width="2" stroke-linecap="round"/>
<line x1="420.35" y1="404.02" x2="419.12" y2="406.75" stroke="#dcdcdc" stroke-width="2" stroke-linecap="round"/>
<line x1="419.12" y1="406.75" x2="417.42" y2="409.03" stroke="#dcdcdc" stroke-width="2" stroke-linecap="round"/>
<line x1="417.42" y1="409.03" x2="415.69" y2="410.5" stroke="#dcdcdc" stroke-width="2" stroke-linecap="round"/>
<line x1="415.69" y1="410.5" x2="414.37" y2="410.98" stroke="#dcdcdc" stroke-width="2" stroke-linecap="round"/>
<line x1="427.09" y1="405.64" x2="427.65" y2="407.92" stroke="#dcdcdc" stroke-width="2" stroke-linecap="round"/>
<line x1="427.65" y1="407.92" x2="427.22" y2="410.65" stroke="#dcdcdc" stroke-width="2" stroke-linecap="round"/>
<line x1="427.22" y1="410.65" x2="425.99" y2="413.37" stroke="#dcdcdc" stroke-width="2" stroke-linecap="round"/>
<line x1="425.99" y1="413.37" x2="424.29" y2="415.65" stroke="#dcdcdc" stroke-width="2" stroke-linecap="round"/>
<line x1="424.29" y1="415.65" x2="422.57" y2="417.13" stroke="#dcdcdc" stroke-width="2" stroke-linecap="round"/>
<line x1="422.57" y1="417.13" x2="421.25" y2="417.6" stroke="#dcdcdc" stroke-width="2" stroke-linecap="round"/>
<line x1="433.97" y1="412.26" x2="434.53" y2="414.54" stroke="#dcdcdc" stroke-width="2" stroke-linecap="round"/>
<line x1="434.53" y1="414.54" x2="434.1" y2="417.27" stroke="#dcdcdc" stroke-width="2" stroke-linecap="round"/>
<line x1="434.1" y1="417.27" x2="432.87" y2="420" stroke="#dcdcdc" stroke-width="2" stroke-linecap="round"/>
<line x1="432.87" y1="420" x2="431.17" y2="422.28" stroke="#dcdcdc" stroke-width="2" stroke-linecap="round"/>
<line x1="431.17" y1="422.28" x2="429.44" y2="423.75" stroke="#dcdcdc" stroke-width="2" stroke-linecap="round"/>
<line x1="429.44" y1="423.75" x2="428.12" y2="424.23" stroke="#dcdcdc" stroke-width="2" stroke-linecap="round"/>
<line x1="440.84" y1="418.89" x2="441.4" y2="421.17" stroke="#dcdcdc" stroke-width="2" stroke-linecap="round"/>
<line x1="441.4" y1="421.17" x2="440.97" y2="423.9" stroke="#dcdcdc" stroke-width="2" stroke-linecap="round"/>
<line x1="440.97" y1="423.9" x2="439.74" y2="426.62" stroke="#dcdcdc" stroke-width="2" stroke-linecap="round"/>
<line x1="439.74" y1="426.62" x2="438.04" y2="428.9" stroke="#dcdcdc" stroke-width="2" stroke-linecap="round"/>
<line x1="438.04" y1="428.9" x2="436.32" y2="430.38" stroke="#dcdcdc" stroke-width="2" stroke-linecap="round"/>
<line x1="436.32" y1="430.38" x2="435" y2="430.85" stroke="#dcdcdc" stroke-width="2" stroke-linecap="round"/>
<line x1="447.72" y1="425.51" x2="448.28" y2="427.79" stroke="#dcdcdc" stroke-width="2" stroke-linecap="round"/>
<line x1="448.28" y1="427.79" x2="447.85" y2="430.52" stroke="#dcdcdc" stroke-width="2" stroke-linecap="round"/>
<line x1="447.85" y1="430.52" x2="446.62" y2="433.25" stroke="#dcdcdc" stroke-width="2" stroke-linecap="round"/>
<line x1="446.62" y1="433.25" x2="444.92" y2="435.53" stroke="#dcdcdc" stroke-width="2" stroke-linecap="round"/>
<line x1="444.92" y1="435.53" x2="443.19" y2="437" stroke="#dcdcdc" stroke-width="2" stroke-linecap="round"/>
<line x1="443.19" y1="437" x2="441.87" y2="437.48" stroke="#dcdcdc" stroke-width="2" stroke-linecap="round"/>
<line x1="454.59" y1="432.14" x2="455.15" y2="434.42" stroke="#dcdcdc" stroke-width="2" stroke-linecap="round"/>
<line x1="455.15" y1="434.42" x2="454.72" y2="437.15" stroke="#dcdcdc" stroke-width="2" stroke-linecap="round"/>
<line x1="454.72" y1="437.15" x2="453.49" y2="439.87" stroke="#dcdcdc" stroke-width="2" stroke-linecap="round"/>
<line x1="453.49" y1="439.87" x2="451.79" y2="442.15" stroke="#dcdcdc" stroke-width="2" stroke-linecap="round"/>
<line x1="451.79" y1="442.15" x2="450.07" y2="443.63" stroke="#dcdcdc" stroke-width="2" stroke-linecap="round"/>
<line x1="450.07" y1="443.63" x2="448.75" y2="444.1" stroke="#dcdcdc" stroke-width="2" stroke-linecap="round"/>
<line x1="461.47" y1="438.76" x2="462.03" y2="441.04" stroke="#dcdcdc" stroke-width="2" stroke-linecap="round"/>
<line x1="462.03" y1="441.04" x2="461.6" y2="443.77" stroke="#dcdcdc" stroke-width="2" stroke-linecap="round"/>
<line x1="461.6" y1="443.77" x2="460.37" y2="446.5" stroke="#dcdcdc" stroke-width="2" stroke-linecap="round"/>
<line x1="460.37" y1="446.5" x2="458.67" y2="448.78" stroke="#dcdcdc" stroke-width="2" stroke-linecap="round"/>
<line x1="458.67" y1="448.78" x2="456.94" y2="450.25" stroke="#dcdcdc" stroke-width="2" stroke-linecap="round"/>
<line x1="456.94" y1="450.25" x2="455.62" y2="450.73" stroke="#dcdcdc" stroke-width="2" stroke-linecap="round"/>
<line x1="468.34" y1="445.39" x2="468.9" y2="447.67" stroke="#dcdcdc" stroke-width="2" stroke-linecap="round"/>
<line x1="468.9" y1="447.67" x2="468.47" y2="450.4" stroke="#dcdcdc" stroke-width="2" stroke-linecap="round"/>
<line x1="468.47" y1="450.4" x2="467.24" y2="453.12" stroke="#dcdcdc" stroke-width="2" stroke-linecap="round"/>
<circle cx="442.2" cy="453.5" r="5.2" fill="#3a3a3a"/>
<circle cx="441.4" cy="452.7" r="2.3" fill="#a8a8a8"/>
<rect x="443.8" y="454.2" width="8.2" height="12" rx="3.69" transform="rotate(22 447.9 460.2)" fill="#3a3a3a"/>
<path d="M444.6 455.2 Q443.2 460.2 444.6 465.2" transform="rotate(22 447.9 460.2)" fill="none" stroke="#8a8a8a" stroke-width="1.1"/>
<rect x="453.5" y="455.8" width="8.2" height="12" rx="3.69" transform="rotate(22 457.6 461.8)" fill="#3a3a3a"/>
<path d="M454.3 456.8 Q452.9 461.8 454.3 466.8" transform="rotate(22 457.6 461.8)" fill="none" stroke="#8a8a8a" stroke-width="1.1"/>
<rect x="462.2" y="460.5" width="8.2" height="12" rx="3.69" transform="rotate(22 466.3 466.5)" fill="#3a3a3a"/>
<path d="M463 461.5 Q461.6 466.5 463 471.5" transform="rotate(22 466.3 466.5)" fill="none" stroke="#8a8a8a" stroke-width="1.1"/>
<rect x="469.7" y="465.4" width="8.2" height="12" rx="3.69" transform="rotate(22 473.8 471.4)" fill="#3a3a3a"/>
<path d="M470.5 466.4 Q469.1 471.4 470.5 476.4" transform="rotate(22 473.8 471.4)" fill="none" stroke="#8a8a8a" stroke-width="1.1"/>
<rect x="385.9" y="514.2" width="7.4" height="12" rx="3.33" transform="rotate(6 389.6 520.2)" fill="#3e3e3e"/>
<ellipse cx="388.7" cy="519.6" rx="2.2" ry="4.4" transform="rotate(6 388.7 519.6)" fill="#8c8c8c"/>
<ellipse cx="388.2" cy="519" rx="1.0" ry="2.8" transform="rotate(6 388.2 519)" fill="#c8c8c8"/>
<rect x="393.6" y="514.2" width="7.4" height="12" rx="3.33" transform="rotate(6 397.3 520.2)" fill="#3e3e3e"/>
<ellipse cx="396.4" cy="519.6" rx="2.2" ry="4.4" transform="rotate(6 396.4 519.6)" fill="#8c8c8c"/>
<ellipse cx="395.9" cy="519" rx="1.0" ry="2.8" transform="rotate(6 395.9 519)" fill="#c8c8c8"/>
<rect x="401.3" y="514.2" width="7.4" height="12" rx="3.33" transform="rotate(6 405 520.2)" fill="#3e3e3e"/>
<ellipse cx="404.1" cy="519.6" rx="2.2" ry="4.4" transform="rotate(6 404.1 519.6)" fill="#8c8c8c"/>
<ellipse cx="403.6" cy="519" rx="1.0" ry="2.8" transform="rotate(6 403.6 519)" fill="#c8c8c8"/>
<rect x="409" y="514.2" width="7.4" height="12" rx="3.33" transform="rotate(6 412.7 520.2)" fill="#3e3e3e"/>
<ellipse cx="411.8" cy="519.6" rx="2.2" ry="4.4" transform="rotate(6 411.8 519.6)" fill="#8c8c8c"/>
<ellipse cx="411.3" cy="519" rx="1.0" ry="2.8" transform="rotate(6 411.3 519)" fill="#c8c8c8"/>
<rect x="416.7" y="514.2" width="7.4" height="12" rx="3.33" transform="rotate(6 420.4 520.2)" fill="#3e3e3e"/>
<ellipse cx="419.5" cy="519.6" rx="2.2" ry="4.4" transform="rotate(6 419.5 519.6)" fill="#8c8c8c"/>
<ellipse cx="419" cy="519" rx="1.0" ry="2.8" transform="rotate(6 419 519)" fill="#c8c8c8"/>
<ellipse cx="433.5" cy="442" rx="3.8" ry="2.6" transform="rotate(30 433.5 442)" fill="#3a3a3a"/>
<path d="M408 381 L415 379 L417 389 L410 391 Z" fill="#8e8e8e"/>
<path d="M418 379 L424.5 378.5 L424 387 L419 390 Z" fill="#9a9a9a"/>
<path d="M402 394 L410 389 L422 390 L418 396 L406 397 Z" fill="#555"/>
<path d="M294.5 457.1 C294.92 456.5 296.2 454.72 297 453.5 C297.8 452.28 298.57 451.35 299.3 449.8 C300.03 448.25 300.58 445.33 301.4 444.2 C302.22 443.07 303.07 443.07 304.2 443 C305.33 442.93 306.85 443.75 308.2 443.8 C309.55 443.85 311 443.17 312.3 443.3 C313.6 443.43 314.8 444.25 316 444.6 C317.2 444.95 318.92 445.27 319.5 445.4" fill="none" stroke="#6a6a6a" stroke-width="0.9" stroke-linecap="round" stroke-linejoin="round"/>
<path d="M310.7 438.5 C310.78 438.92 310.93 440.2 311.2 441 C311.47 441.8 312.12 442.92 312.3 443.3" fill="none" stroke="#6a6a6a" stroke-width="0.9" stroke-linecap="round" stroke-linejoin="round"/>
<circle cx="304.3" cy="449.6" r="2.9" fill="none" stroke="#6a6a6a" stroke-width="0.9"/>
<path d="M306.5 451 C306.78 451.13 307.53 451.22 308.2 451.8 C308.87 452.38 309.68 453.62 310.5 454.5 C311.32 455.38 312.18 456.48 313.1 457.1 C314.02 457.72 315.1 457.93 316 458.2 C316.9 458.47 318.08 458.62 318.5 458.7" fill="none" stroke="#6a6a6a" stroke-width="0.9" stroke-linecap="round" stroke-linejoin="round"/>
<path d="M301.5 452 C301.33 452.5 301.08 454 300.5 455 C299.92 456 298.42 457.5 298 458" fill="none" stroke="#808080" stroke-width="0.8" stroke-linecap="round" stroke-linejoin="round"/>
<path d="M305.6 455 q1.6 0.2 1.3 1.6 q-1.4 0.6 -1.2 1.8 q1.6 0.4 1.4 1.8" fill="none" stroke="#777" stroke-width="0.8"/>
<circle cx="305.4" cy="449.7" r="16.1" fill="none" stroke="#111" stroke-width="2"/>
<path d="M326.3 409 L316.6 428" stroke="#111" stroke-width="2.9" fill="none"/>
<polygon points="313,423.6 313.1,433.4 321.2,428.4" fill="#111"/>
<text x="343.9" y="397.6" font-size="8.8" font-weight="bold" fill="#111" text-anchor="middle">AMG 212 binding site</text>
<path d="M497.2 451.6 L437.3 535.6" stroke="#111" stroke-width="1.9"/>
<text transform="translate(479.4 496.9) rotate(-51.5)" font-size="7.4" font-weight="bold" fill="#111" style="stroke:#111;stroke-width:0.3px" text-anchor="middle">Cell surface</text>
<g shape-rendering="crispEdges">
<rect x="0" y="0" width="1" height="558" fill="#555"/>
<rect x="1" y="0" width="1" height="558" fill="#999"/>
<rect x="2" y="0" width="1" height="558" fill="#eee"/>
<rect x="0" y="0" width="520" height="1" fill="#555"/>
<rect x="1" y="1" width="519" height="1" fill="#999"/>
<rect x="2" y="2" width="516" height="1" fill="#eee"/>
<rect x="517" y="2" width="1" height="554" fill="#f0f0f0"/>
<rect x="518" y="1" width="1" height="557" fill="#a0a0a0"/>
<rect x="519" y="0" width="1" height="558" fill="#6a6a6a"/>
<rect x="2" y="555" width="516" height="1" fill="#e6e6e6"/>
<rect x="1" y="556" width="518" height="1" fill="#999"/>
<rect x="0" y="557" width="520" height="1" fill="#666"/>
</g>
</svg></body></html>
